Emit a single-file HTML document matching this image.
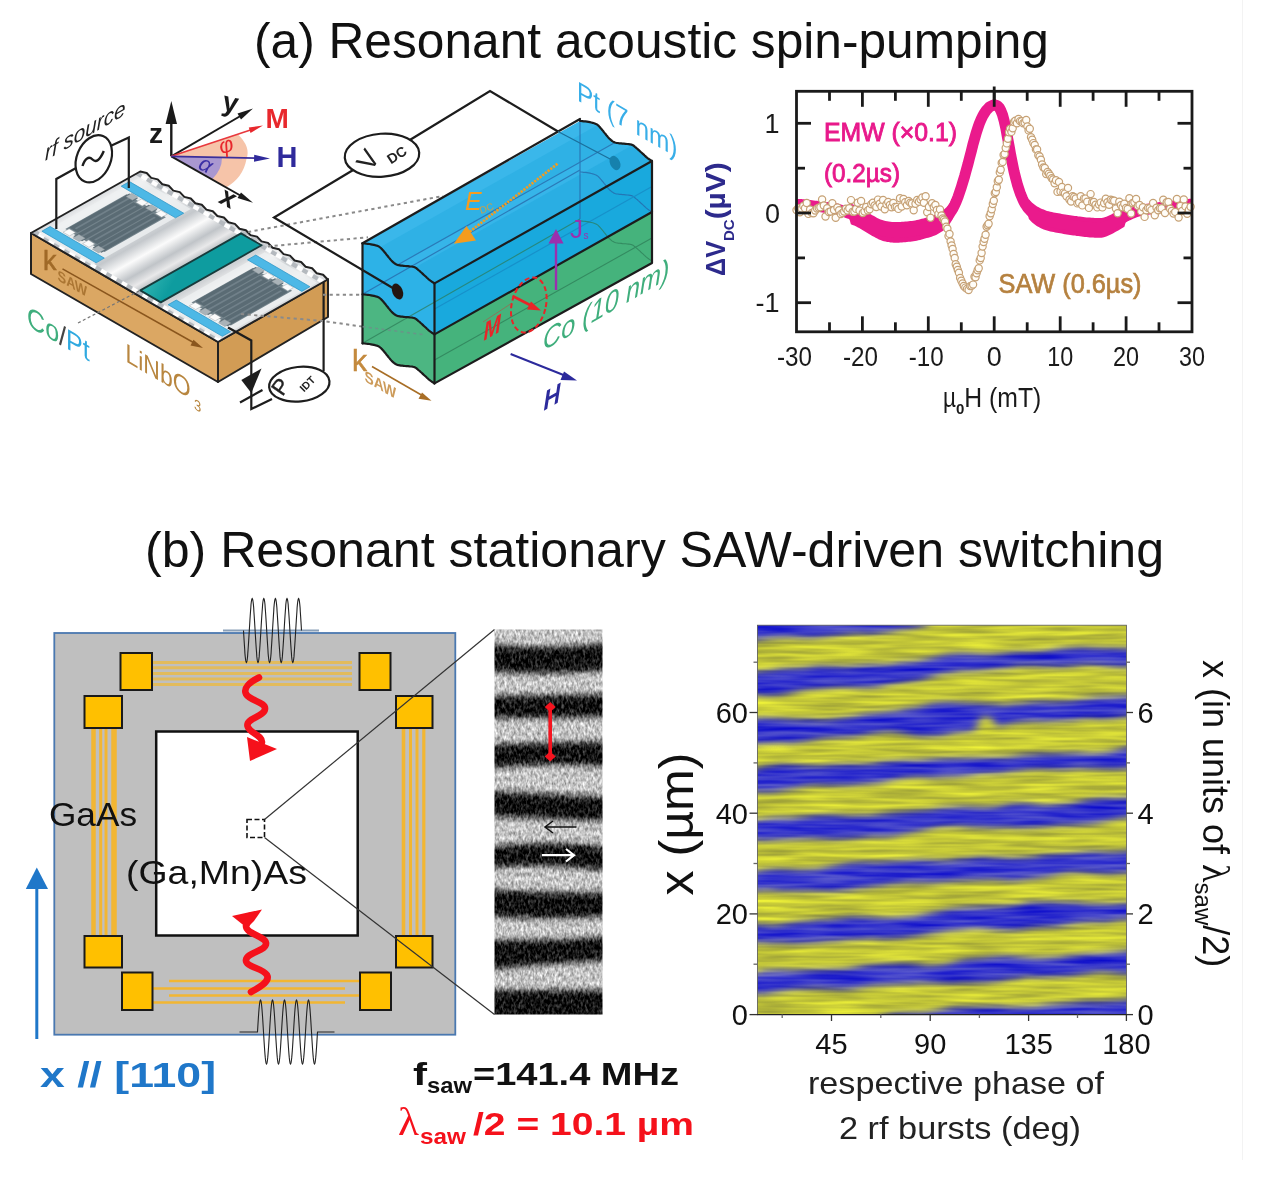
<!DOCTYPE html>
<html><head><meta charset="utf-8"><title>SAW figure</title>
<style>html,body{margin:0;padding:0;background:#fff}svg{display:block;filter:blur(0.4px)}</style>
</head><body>
<svg width="1264" height="1182" viewBox="0 0 1264 1182" font-family="'Liberation Sans', sans-serif">
<rect width="1264" height="1182" fill="#ffffff"/>

<g fill="#111">
<text x="254" y="58" font-size="49.5" textLength="795" lengthAdjust="spacingAndGlyphs">(a) Resonant acoustic spin-pumping</text>
<text x="145" y="567" font-size="50" textLength="1019" lengthAdjust="spacingAndGlyphs">(b) Resonant stationary SAW-driven switching</text>
</g>
<line x1="1242.5" y1="0" x2="1242.5" y2="1160" stroke="#f3f3f3" stroke-width="1"/>
<g id="device">
<defs>
<linearGradient id="silver" x1="0" y1="0" x2="1" y2="0">
<stop offset="0" stop-color="#d9dcdf"/><stop offset="0.05" stop-color="#f6f6f6"/><stop offset="0.12" stop-color="#cfd3d6"/>
<stop offset="0.2" stop-color="#f2f2f2"/><stop offset="0.28" stop-color="#d5d8db"/><stop offset="0.33" stop-color="#c4c8cc"/>
<stop offset="0.40" stop-color="#fbfbfb"/><stop offset="0.47" stop-color="#c0c4c8"/><stop offset="0.52" stop-color="#e9e9ea"/>
<stop offset="0.56" stop-color="#b9bdc1"/><stop offset="0.68" stop-color="#d0d3d6"/><stop offset="0.74" stop-color="#f4f4f4"/>
<stop offset="0.82" stop-color="#cdd1d4"/><stop offset="0.9" stop-color="#f3f3f3"/><stop offset="1" stop-color="#d5d8db"/>
</linearGradient>
<linearGradient id="tealg" gradientUnits="userSpaceOnUse" x1="141" y1="290" x2="162" y2="302"><stop offset="0" stop-color="#2fb3b0"/><stop offset="1" stop-color="#0e9c9f"/></linearGradient>
</defs>
<polygon points="31,233 218,342 218,382 31,274" fill="#dba763" stroke="#222" stroke-width="2" stroke-linejoin="round"/>
<polygon points="218,342 328,279 328,317 218,382" fill="#d29c55" stroke="#222" stroke-width="2" stroke-linejoin="round"/>
<clipPath id="topclip"><polygon points="31.0,233.0 140.2,171.5 146.7,173.0 151.2,177.9 157.7,179.4 162.3,184.2 168.7,185.8 173.3,190.6 179.8,192.1 184.3,196.9 190.8,198.5 195.3,203.3 201.8,204.8 206.4,209.6 212.8,211.2 217.4,216.0 223.9,217.5 228.4,222.3 234.9,223.9 239.5,228.7 245.9,230.2 250.5,235.1 257.0,236.6 261.5,241.4 268.0,242.9 272.6,247.8 279.0,249.3 283.6,254.1 290.0,255.6 294.6,260.5 301.1,262.0 305.6,266.8 312.1,268.3 316.7,273.2 323.1,274.7 327.7,279.5 218.0,342.0"/></clipPath>
<g clip-path="url(#topclip)"><rect x="0" y="0" width="100" height="104" fill="url(#silver)" transform="matrix(1.87 1.09 1.095 -0.62 31 233)"/></g>
<g clip-path="url(#topclip)" fill="none" stroke-width="4.2" stroke-dasharray="5.5 6.5">
<path d="M33.8,231.4 L220.8,340.4" stroke="#b4b9be"/>
<path d="M33.8,231.4 L220.8,340.4" stroke="#ffffff" stroke-dashoffset="6"/>
<path d="M136.7,173.2 L323.7,282.2" stroke="#b4b9be"/>
<path d="M136.7,173.2 L323.7,282.2" stroke="#ffffff" stroke-dashoffset="6"/>
</g>
<polygon points="31.0,233.0 140.2,171.5 146.7,173.0 151.2,177.9 157.7,179.4 162.3,184.2 168.7,185.8 173.3,190.6 179.8,192.1 184.3,196.9 190.8,198.5 195.3,203.3 201.8,204.8 206.4,209.6 212.8,211.2 217.4,216.0 223.9,217.5 228.4,222.3 234.9,223.9 239.5,228.7 245.9,230.2 250.5,235.1 257.0,236.6 261.5,241.4 268.0,242.9 272.6,247.8 279.0,249.3 283.6,254.1 290.0,255.6 294.6,260.5 301.1,262.0 305.6,266.8 312.1,268.3 316.7,273.2 323.1,274.7 327.7,279.5 218.0,342.0" fill="none" stroke="#222" stroke-width="2" stroke-linejoin="round"/>
<polygon points="39.9,234.4 92.3,264.9 190.8,209.1 138.4,178.6" fill="#eef0f1" opacity="0.8"/>
<polygon points="65.3,229.1 104.5,252.0 165.9,217.2 126.6,194.3" fill="#74848c"/>
<polygon points="69.1,227.5 77.7,232.5 137.9,198.4 129.3,193.4" fill="#5a6b74"/>
<polygon points="74.7,228.3 76.4,229.2 132.2,197.6 130.5,196.6" fill="#71818a"/>
<polygon points="63.1,232.2 69.5,235.9 75.5,232.5 69.1,228.8" fill="#fbfbfb" stroke="#8a959b" stroke-width="0.4"/>
<polygon points="126.1,196.6 132.4,200.3 138.1,197.1 131.8,193.3" fill="#aab3b8" stroke="#8a959b" stroke-width="0.4"/>
<polygon points="73.4,236.3 82.0,241.3 142.2,207.2 133.6,202.2" fill="#5a6b74"/>
<polygon points="78.9,237.0 80.6,238.0 136.4,206.4 134.8,205.4" fill="#71818a"/>
<polygon points="72.8,237.9 79.2,241.6 85.2,238.2 78.9,234.5" fill="#aab3b8" stroke="#8a959b" stroke-width="0.4"/>
<polygon points="135.8,202.2 142.2,205.9 147.9,202.7 141.5,199.0" fill="#fbfbfb" stroke="#8a959b" stroke-width="0.4"/>
<polygon points="88.6,238.9 97.2,243.9 157.4,209.8 148.8,204.8" fill="#5a6b74"/>
<polygon points="94.1,239.6 95.8,240.6 151.6,209.0 150.0,208.0" fill="#71818a"/>
<polygon points="82.6,243.6 88.9,247.3 94.9,243.9 88.6,240.1" fill="#fbfbfb" stroke="#8a959b" stroke-width="0.4"/>
<polygon points="145.5,207.9 151.9,211.6 157.6,208.4 151.2,204.7" fill="#aab3b8" stroke="#8a959b" stroke-width="0.4"/>
<polygon points="92.8,247.6 101.4,252.7 161.6,218.6 153.0,213.5" fill="#5a6b74"/>
<polygon points="98.4,248.4 100.1,249.3 155.9,217.7 154.2,216.7" fill="#71818a"/>
<polygon points="92.3,249.2 98.6,252.9 104.7,249.5 98.3,245.8" fill="#aab3b8" stroke="#8a959b" stroke-width="0.4"/>
<polygon points="155.3,213.6 161.6,217.3 167.3,214.1 160.9,210.3" fill="#fbfbfb" stroke="#8a959b" stroke-width="0.4"/>
<polygon points="41.9,231.2 96.1,262.8 104.3,258.1 50.1,226.5" fill="#4db8e6" stroke="#3198c8" stroke-width="0.8"/>
<polygon points="121.2,186.2 175.5,217.8 183.7,213.2 129.5,181.6" fill="#4db8e6" stroke="#3198c8" stroke-width="0.8"/>
<polygon points="166.1,308.0 218.5,338.5 317.0,282.7 264.7,252.2" fill="#eef0f1" opacity="0.8"/>
<polygon points="191.5,302.6 230.8,325.5 292.1,290.8 252.8,267.9" fill="#74848c"/>
<polygon points="195.3,301.1 203.9,306.1 264.2,272.0 255.6,267.0" fill="#5a6b74"/>
<polygon points="200.9,301.8 202.6,302.8 258.4,271.2 256.7,270.2" fill="#71818a"/>
<polygon points="189.3,305.8 195.7,309.5 201.7,306.1 195.4,302.4" fill="#fbfbfb" stroke="#8a959b" stroke-width="0.4"/>
<polygon points="252.3,270.1 258.7,273.9 264.4,270.6 258.0,266.9" fill="#aab3b8" stroke="#8a959b" stroke-width="0.4"/>
<polygon points="199.6,309.9 208.2,314.9 268.4,280.8 259.8,275.8" fill="#5a6b74"/>
<polygon points="205.1,310.6 206.8,311.6 262.7,280.0 261.0,279.0" fill="#71818a"/>
<polygon points="199.1,311.5 205.4,315.2 211.4,311.8 205.1,308.1" fill="#aab3b8" stroke="#8a959b" stroke-width="0.4"/>
<polygon points="262.0,275.8 268.4,279.5 274.1,276.3 267.7,272.6" fill="#fbfbfb" stroke="#8a959b" stroke-width="0.4"/>
<polygon points="214.8,312.4 223.4,317.5 283.6,283.4 275.0,278.3" fill="#5a6b74"/>
<polygon points="220.3,313.2 222.0,314.1 277.9,282.5 276.2,281.5" fill="#71818a"/>
<polygon points="208.8,317.1 215.2,320.8 221.2,317.4 214.8,313.7" fill="#fbfbfb" stroke="#8a959b" stroke-width="0.4"/>
<polygon points="271.8,281.5 278.1,285.2 283.8,282.0 277.4,278.3" fill="#aab3b8" stroke="#8a959b" stroke-width="0.4"/>
<polygon points="219.0,321.2 227.6,326.2 287.9,292.1 279.3,287.1" fill="#5a6b74"/>
<polygon points="224.6,321.9 226.3,322.9 282.1,291.3 280.4,290.3" fill="#71818a"/>
<polygon points="218.5,322.8 224.9,326.5 230.9,323.1 224.5,319.4" fill="#aab3b8" stroke="#8a959b" stroke-width="0.4"/>
<polygon points="281.5,287.1 287.8,290.9 293.5,287.6 287.2,283.9" fill="#fbfbfb" stroke="#8a959b" stroke-width="0.4"/>
<polygon points="168.1,304.7 222.3,336.3 230.5,331.7 176.3,300.1" fill="#4db8e6" stroke="#3198c8" stroke-width="0.8"/>
<polygon points="247.5,259.8 301.7,291.4 309.9,286.7 255.7,255.1" fill="#4db8e6" stroke="#3198c8" stroke-width="0.8"/>
<polygon points="140.3,290.4 160.8,302.4 261.6,245.3 241.0,233.4" fill="url(#tealg)" stroke="#173b3c" stroke-width="1.8" stroke-linejoin="round"/>
<g fill="none" stroke="#1d1d1d" stroke-width="2.2" stroke-linejoin="miter">
<path d="M56.3,229 V179 L77,167.5"/>
<path d="M110.5,146 L128.8,137.5 V188"/>
<ellipse cx="93.8" cy="158.8" rx="17" ry="24.5" transform="rotate(22 93.8 158.8)" fill="#fff"/>
<path d="M82.5,166 C85,158 89,156 92.5,159.5 C96,163 100,160 103.8,151" stroke-width="2.4"/>
</g>
<text transform="matrix(0.866,-0.5,0,1,45,161)" font-size="22" font-style="italic" fill="#222" textLength="93" lengthAdjust="spacingAndGlyphs">rf source</text>
<g fill="none" stroke="#1d1d1d" stroke-width="2.2">
<path d="M228,327.5 L251.3,340.5 V409 L272,399"/>
<path d="M323.6,282 V371"/>
<path d="M240,402.5 L262.5,390"/>
<ellipse cx="299.3" cy="384.2" rx="30.3" ry="17.3" transform="rotate(-6 299.3 384.2)" fill="#fff"/>
</g>
<polygon points="241.3,380 261.5,368.5 251.3,393" fill="#1d1d1d"/>
<text transform="translate(282.5,397) rotate(-55)" font-size="22" fill="#222" stroke="#222" stroke-width="0.4">P</text>
<text transform="translate(304,392.5) rotate(-45)" font-size="10.5" font-weight="bold" fill="#222">IDT</text>
<path d="M171.3,156.3 L237.6,134.1 Q251,147 246.5,159 Q243,178 226,187.4 Z" fill="#f6c4a9"/>
<path d="M171.3,156.3 L222,157.6 Q222,170 212,179.5 Z" fill="#aa98d0"/>
<g stroke-width="2" fill="none">
<path d="M171.3,156.3 V120" stroke="#1a1a1a" stroke-width="2.4"/>
<path d="M171.3,156.3 L243,114.5" stroke="#1a1a1a"/>
<path d="M171.3,156.3 L243,197" stroke="#1a1a1a"/>
<path d="M171.3,156.3 L252,129.5" stroke="#e8383d" stroke-width="1.6"/>
<path d="M171.3,156.3 L256,158.2" stroke="#3b2f9b" stroke-width="1.8"/>
</g>
<polygon points="171.3,101 177,124 165.6,124" fill="#1a1a1a"/>
<polygon points="253,108.5 241,119.5 237.5,113.5" fill="#1a1a1a"/>
<polygon points="253,202.8 237.5,198 241,192.5" fill="#1a1a1a"/>
<polygon points="263,125.6 250.5,133 248.8,127.5" fill="#e8282d"/>
<polygon points="270,158.5 254,161.8 254.2,154.8" fill="#2f2a9b"/>
<g font-weight="bold">
<text x="149" y="142.5" font-size="28" fill="#1a1a1a">z</text>
<text transform="translate(221,110) rotate(12)" font-size="28" fill="#1a1a1a">y</text>
<text transform="translate(217.5,202) rotate(28)" font-size="27" fill="#1a1a1a">x</text>
<text x="265.5" y="127.5" font-size="28" fill="#e8282d">M</text>
<text x="276.5" y="167" font-size="29" fill="#2f2a9b">H</text>
</g>
<text transform="translate(221,154) rotate(-15)" font-size="22" fill="#e8282d" font-style="italic">φ</text>
<text transform="translate(197,168) rotate(28)" font-size="22" fill="#3b2fa5" font-style="italic">α</text>
<text x="43" y="270" font-size="27" fill="#a06a28" stroke="#a06a28" stroke-width="0.5">k</text>
<text transform="matrix(0.866,0.5,0,1,57.5,280)" font-size="15" font-weight="bold" fill="#a06a28" opacity="0.8">SAW</text>
<path d="M62.5,268.8 L197,344.5" stroke="#8a561d" stroke-width="1.5" fill="none"/>
<polygon points="203,348 190.5,345.5 193.5,339.8" fill="#8a561d"/>
<text transform="matrix(0.866,0.5,0,1,27,325.5)" font-size="29"><tspan fill="#3fae7d">Co</tspan><tspan fill="#444">/</tspan><tspan fill="#2fa9e0">Pt</tspan></text>
<text transform="matrix(0.866,0.5,0,1,125.5,361.3)" font-size="26.5" fill="#b8863f">LiNbO<tspan font-size="15" dy="8" dx="4">3</tspan></text>
<path d="M78,323 L141,290" stroke="#777" stroke-width="1.2" stroke-dasharray="3 2.5" fill="none"/>
</g>
<g id="block">
<g stroke="#8a8a8a" stroke-width="2" stroke-dasharray="3.2 3.4" fill="none">
<path d="M248,232 L443,196"/>
<path d="M268,246.4 L368,237.3"/>
<path d="M323,294.7 L362.5,294.7"/>
<path d="M241,314 L323,321 L362.5,326.6"/>
</g>
<g stroke="#1c1c1c" stroke-width="2.2" fill="none" stroke-linejoin="miter">
<path d="M409,140.5 L490,91 L558,131.5"/>
</g>
<polygon points="362.5,243.3 363.4,243.4 364.7,243.5 366.2,243.7 367.9,243.8 369.5,244.0 371.0,244.3 372.4,244.6 373.8,244.9 375.2,245.2 376.6,245.6 377.8,246.1 379.0,246.6 380.0,247.3 380.9,248.0 381.7,248.9 382.5,249.7 383.2,250.6 384.0,251.5 384.7,252.4 385.5,253.2 386.1,254.1 386.8,255.0 387.5,255.8 388.2,256.7 388.9,257.6 389.6,258.4 390.3,259.3 391.0,260.1 391.7,260.9 392.5,261.6 393.3,262.3 394.0,262.9 394.8,263.5 395.6,264.0 396.5,264.5 397.5,264.9 398.6,265.2 399.8,265.4 401.0,265.6 402.3,265.7 403.6,265.8 405.0,266.0 406.4,266.1 408.0,266.2 409.6,266.4 411.2,266.5 412.6,266.7 413.9,267.0 415.0,267.4 415.9,267.9 416.7,268.5 417.4,269.2 418.2,269.8 419.0,270.5 419.9,271.2 420.7,272.0 421.6,272.8 422.5,273.6 423.3,274.4 424.2,275.2 425.1,276.0 426.0,276.8 426.9,277.7 427.8,278.5 428.6,279.3 429.5,280.0 430.4,280.7 431.4,281.4 432.3,282.0 433.2,282.6 434.0,283.0 434.5,283.4 652.0,161.0 651.5,160.6 650.7,160.2 649.8,159.6 648.9,159.0 647.9,158.3 647.0,157.6 646.1,156.9 645.3,156.1 644.4,155.3 643.5,154.4 642.6,153.6 641.7,152.8 640.8,152.0 640.0,151.2 639.1,150.4 638.2,149.6 637.4,148.8 636.5,148.1 635.7,147.4 634.9,146.8 634.2,146.1 633.4,145.5 632.5,145.0 631.4,144.6 630.1,144.3 628.7,144.1 627.1,144.0 625.5,143.8 623.9,143.7 622.5,143.6 621.1,143.4 619.8,143.3 618.5,143.2 617.3,143.0 616.1,142.8 615.0,142.5 614.0,142.1 613.1,141.6 612.3,141.1 611.5,140.5 610.8,139.9 610.0,139.2 609.2,138.5 608.5,137.7 607.8,136.9 607.1,136.0 606.4,135.2 605.7,134.3 605.0,133.4 604.3,132.6 603.6,131.7 603.0,130.8 602.2,130.0 601.5,129.1 600.7,128.2 600.0,127.3 599.2,126.5 598.4,125.6 597.5,124.9 596.5,124.2 595.3,123.7 594.1,123.2 592.7,122.8 591.3,122.5 589.9,122.2 588.5,121.9 587.0,121.6 585.4,121.4 583.8,121.3 582.2,121.1 580.9,121.0 580.0,120.9" fill="#3ab7ea"/>
<polygon points="380.0,247.3 380.9,248.0 381.7,248.9 382.5,249.7 383.2,250.6 384.0,251.5 384.7,252.4 385.5,253.2 386.1,254.1 386.8,255.0 387.5,255.8 388.2,256.7 388.9,257.6 389.6,258.4 390.3,259.3 391.0,260.1 391.7,260.9 392.5,261.6 393.3,262.3 394.0,262.9 394.8,263.5 395.6,264.0 396.5,264.5 397.5,264.9 615.0,142.5 614.0,142.1 613.1,141.6 612.3,141.1 611.5,140.5 610.8,139.9 610.0,139.2 609.2,138.5 608.5,137.7 607.8,136.9 607.1,136.0 606.4,135.2 605.7,134.3 605.0,133.4 604.3,132.6 603.6,131.7 603.0,130.8 602.2,130.0 601.5,129.1 600.7,128.2 600.0,127.3 599.2,126.5 598.4,125.6 597.5,124.9" fill="#2fb1e5"/>
<polygon points="397.5,264.9 398.6,265.2 399.8,265.4 401.0,265.6 402.3,265.7 403.6,265.8 405.0,266.0 406.4,266.1 408.0,266.2 409.6,266.4 411.2,266.5 412.6,266.7 413.9,267.0 415.0,267.4 632.5,145.0 631.4,144.6 630.1,144.3 628.7,144.1 627.1,144.0 625.5,143.8 623.9,143.7 622.5,143.6 621.1,143.4 619.8,143.3 618.5,143.2 617.3,143.0 616.1,142.8 615.0,142.5" fill="#36b5e9"/>
<polygon points="415.0,267.4 415.9,267.9 416.7,268.5 417.4,269.2 418.2,269.8 419.0,270.5 419.9,271.2 420.7,272.0 421.6,272.8 422.5,273.6 423.3,274.4 424.2,275.2 425.1,276.0 426.0,276.8 426.9,277.7 427.8,278.5 428.6,279.3 429.5,280.0 430.4,280.7 431.4,281.4 432.3,282.0 433.2,282.6 434.0,283.0 434.5,283.4 652.0,161.0 651.5,160.6 650.7,160.2 649.8,159.6 648.9,159.0 647.9,158.3 647.0,157.6 646.1,156.9 645.3,156.1 644.4,155.3 643.5,154.4 642.6,153.6 641.7,152.8 640.8,152.0 640.0,151.2 639.1,150.4 638.2,149.6 637.4,148.8 636.5,148.1 635.7,147.4 634.9,146.8 634.2,146.1 633.4,145.5 632.5,145.0" fill="#2aaee3"/>
<polygon points="362.5,243.3 363.4,243.4 364.7,243.5 366.2,243.7 367.9,243.8 369.5,244.0 371.0,244.3 372.4,244.6 373.8,244.9 375.2,245.2 376.6,245.6 377.8,246.1 379.0,246.6 380.0,247.3 380.9,248.0 381.7,248.9 382.5,249.7 383.2,250.6 384.0,251.5 384.7,252.4 385.5,253.2 386.1,254.1 386.8,255.0 387.5,255.8 388.2,256.7 388.9,257.6 389.6,258.4 390.3,259.3 391.0,260.1 391.7,260.9 392.5,261.6 393.3,262.3 394.0,262.9 394.8,263.5 395.6,264.0 396.5,264.5 397.5,264.9 398.6,265.2 399.8,265.4 401.0,265.6 402.3,265.7 403.6,265.8 405.0,266.0 406.4,266.1 408.0,266.2 409.6,266.4 411.2,266.5 412.6,266.7 413.9,267.0 415.0,267.4 415.9,267.9 416.7,268.5 417.4,269.2 418.2,269.8 419.0,270.5 419.9,271.2 420.7,272.0 421.6,272.8 422.5,273.6 423.3,274.4 424.2,275.2 425.1,276.0 426.0,276.8 426.9,277.7 427.8,278.5 428.6,279.3 429.5,280.0 430.4,280.7 431.4,281.4 432.3,282.0 433.2,282.6 434.0,283.0 434.5,283.4 434.5,334.4 434.0,334.0 433.2,333.6 432.3,333.0 431.4,332.4 430.4,331.7 429.5,331.0 428.6,330.3 427.8,329.5 426.9,328.7 426.0,327.8 425.1,327.0 424.2,326.2 423.3,325.4 422.5,324.6 421.6,323.8 420.7,323.0 419.9,322.2 419.0,321.5 418.2,320.8 417.4,320.2 416.7,319.5 415.9,318.9 415.0,318.4 413.9,318.0 412.6,317.7 411.2,317.5 409.6,317.4 408.0,317.2 406.4,317.1 405.0,317.0 403.6,316.8 402.3,316.7 401.0,316.6 399.8,316.4 398.6,316.2 397.5,315.9 396.5,315.5 395.6,315.0 394.8,314.5 394.0,313.9 393.3,313.3 392.5,312.6 391.7,311.9 391.0,311.1 390.3,310.3 389.6,309.4 388.9,308.6 388.2,307.7 387.5,306.8 386.8,306.0 386.1,305.1 385.5,304.2 384.7,303.4 384.0,302.5 383.2,301.6 382.5,300.7 381.7,299.9 380.9,299.0 380.0,298.3 379.0,297.6 377.8,297.1 376.6,296.6 375.2,296.2 373.8,295.9 372.4,295.6 371.0,295.3 369.5,295.0 367.9,294.8 366.2,294.7 364.7,294.5 363.4,294.4 362.5,294.3" fill="#2db2e7"/>
<polygon points="362.5,294.3 363.4,294.4 364.7,294.5 366.2,294.7 367.9,294.8 369.5,295.0 371.0,295.3 372.4,295.6 373.8,295.9 375.2,296.2 376.6,296.6 377.8,297.1 379.0,297.6 380.0,298.3 380.9,299.0 381.7,299.9 382.5,300.7 383.2,301.6 384.0,302.5 384.7,303.4 385.5,304.2 386.1,305.1 386.8,306.0 387.5,306.8 388.2,307.7 388.9,308.6 389.6,309.4 390.3,310.3 391.0,311.1 391.7,311.9 392.5,312.6 393.3,313.3 394.0,313.9 394.8,314.5 395.6,315.0 396.5,315.5 397.5,315.9 398.6,316.2 399.8,316.4 401.0,316.6 402.3,316.7 403.6,316.8 405.0,317.0 406.4,317.1 408.0,317.2 409.6,317.4 411.2,317.5 412.6,317.7 413.9,318.0 415.0,318.4 415.9,318.9 416.7,319.5 417.4,320.2 418.2,320.8 419.0,321.5 419.9,322.2 420.7,323.0 421.6,323.8 422.5,324.6 423.3,325.4 424.2,326.2 425.1,327.0 426.0,327.8 426.9,328.7 427.8,329.5 428.6,330.3 429.5,331.0 430.4,331.7 431.4,332.4 432.3,333.0 433.2,333.6 434.0,334.0 434.5,334.4 434.5,383.4 434.0,383.0 433.2,382.6 432.3,382.0 431.4,381.4 430.4,380.7 429.5,380.0 428.6,379.3 427.8,378.5 426.9,377.7 426.0,376.8 425.1,376.0 424.2,375.2 423.3,374.4 422.5,373.6 421.6,372.8 420.7,372.0 419.9,371.2 419.0,370.5 418.2,369.8 417.4,369.2 416.7,368.5 415.9,367.9 415.0,367.4 413.9,367.0 412.6,366.7 411.2,366.5 409.6,366.4 408.0,366.2 406.4,366.1 405.0,366.0 403.6,365.8 402.3,365.7 401.0,365.6 399.8,365.4 398.6,365.2 397.5,364.9 396.5,364.5 395.6,364.0 394.8,363.5 394.0,362.9 393.3,362.3 392.5,361.6 391.7,360.9 391.0,360.1 390.3,359.3 389.6,358.4 388.9,357.6 388.2,356.7 387.5,355.8 386.8,355.0 386.1,354.1 385.5,353.2 384.7,352.4 384.0,351.5 383.2,350.6 382.5,349.7 381.7,348.9 380.9,348.0 380.0,347.3 379.0,346.6 377.8,346.1 376.6,345.6 375.2,345.2 373.8,344.9 372.4,344.6 371.0,344.3 369.5,344.0 367.9,343.8 366.2,343.7 364.7,343.5 363.4,343.4 362.5,343.3" fill="#4cb682"/>
<polygon points="434.5,283.4 652,161 652,212 434.5,334.4" fill="#19a9dd"/>
<polygon points="434.5,334.4 652,212 652,263 434.5,383.4" fill="#45b37c"/>
<g stroke="#2766a8" stroke-width="1.2" fill="none" opacity="0.75">
<path d="M580,119 V219"/>
<path d="M362.5,294.3 L580,170"/>
<polyline points="580.0,171.9 580.9,172.0 582.2,172.1 583.8,172.3 585.4,172.4 587.0,172.6 588.5,172.9 589.9,173.2 591.3,173.5 592.7,173.8 594.1,174.2 595.3,174.7 596.5,175.2 597.5,175.9 598.4,176.6 599.2,177.5 600.0,178.3 600.7,179.2 601.5,180.1 602.2,181.0 603.0,181.8 603.6,182.7 604.3,183.6 605.0,184.4 605.7,185.3 606.4,186.2 607.1,187.0 607.8,187.9 608.5,188.7 609.2,189.5 610.0,190.2 610.8,190.9 611.5,191.5 612.3,192.1 613.1,192.6 614.0,193.1 615.0,193.5 616.1,193.8 617.3,194.0 618.5,194.2 619.8,194.3 621.1,194.4 622.5,194.6 623.9,194.7 625.5,194.8 627.1,195.0 628.7,195.1 630.1,195.3 631.4,195.6 632.5,196.0 633.4,196.5 634.2,197.1 634.9,197.8 635.7,198.4 636.5,199.1 637.4,199.8 638.2,200.6 639.1,201.4 640.0,202.2 640.8,203.0 641.7,203.8 642.6,204.6 643.5,205.4 644.4,206.3 645.3,207.1 646.1,207.9 647.0,208.6 647.9,209.3 648.9,210.0 649.8,210.6 650.7,211.2 651.5,211.6 652.0,212.0"/>
<path d="M397.5,264.9 L615,142.5"/>
<path d="M434.5,309 L652,186.5" stroke="#1689c4"/>
</g>
<g stroke="#2c7a55" stroke-width="1.1" fill="none" opacity="0.7">
<path d="M362.5,343.3 L580,219"/>
<polyline points="580.0,220.9 580.9,221.0 582.2,221.1 583.8,221.3 585.4,221.4 587.0,221.6 588.5,221.9 589.9,222.2 591.3,222.5 592.7,222.8 594.1,223.2 595.3,223.7 596.5,224.2 597.5,224.9 598.4,225.6 599.2,226.5 600.0,227.3 600.7,228.2 601.5,229.1 602.2,230.0 603.0,230.8 603.6,231.7 604.3,232.6 605.0,233.4 605.7,234.3 606.4,235.2 607.1,236.0 607.8,236.9 608.5,237.7 609.2,238.5 610.0,239.2 610.8,239.9 611.5,240.5 612.3,241.1 613.1,241.6 614.0,242.1 615.0,242.5 616.1,242.8 617.3,243.0 618.5,243.2 619.8,243.3 621.1,243.4 622.5,243.6 623.9,243.7 625.5,243.8 627.1,244.0 628.7,244.1 630.1,244.3 631.4,244.6 632.5,245.0 633.4,245.5 634.2,246.1 634.9,246.8 635.7,247.4 636.5,248.1 637.4,248.8 638.2,249.6 639.1,250.4 640.0,251.2 640.8,252.0 641.7,252.8 642.6,253.6 643.5,254.4 644.4,255.3 645.3,256.1 646.1,256.9 647.0,257.6 647.9,258.3 648.9,259.0 649.8,259.6 650.7,260.2 651.5,260.6 652.0,261.0"/>
<path d="M434.5,360 L652,238"/>
</g>
<g stroke="#1c1c1c" stroke-width="2.2" fill="none" stroke-linejoin="round" stroke-linecap="round">
<polyline points="362.5,243.3 363.4,243.4 364.7,243.5 366.2,243.7 367.9,243.8 369.5,244.0 371.0,244.3 372.4,244.6 373.8,244.9 375.2,245.2 376.6,245.6 377.8,246.1 379.0,246.6 380.0,247.3 380.9,248.0 381.7,248.9 382.5,249.7 383.2,250.6 384.0,251.5 384.7,252.4 385.5,253.2 386.1,254.1 386.8,255.0 387.5,255.8 388.2,256.7 388.9,257.6 389.6,258.4 390.3,259.3 391.0,260.1 391.7,260.9 392.5,261.6 393.3,262.3 394.0,262.9 394.8,263.5 395.6,264.0 396.5,264.5 397.5,264.9 398.6,265.2 399.8,265.4 401.0,265.6 402.3,265.7 403.6,265.8 405.0,266.0 406.4,266.1 408.0,266.2 409.6,266.4 411.2,266.5 412.6,266.7 413.9,267.0 415.0,267.4 415.9,267.9 416.7,268.5 417.4,269.2 418.2,269.8 419.0,270.5 419.9,271.2 420.7,272.0 421.6,272.8 422.5,273.6 423.3,274.4 424.2,275.2 425.1,276.0 426.0,276.8 426.9,277.7 427.8,278.5 428.6,279.3 429.5,280.0 430.4,280.7 431.4,281.4 432.3,282.0 433.2,282.6 434.0,283.0 434.5,283.4"/>
<polyline points="362.5,294.3 363.4,294.4 364.7,294.5 366.2,294.7 367.9,294.8 369.5,295.0 371.0,295.3 372.4,295.6 373.8,295.9 375.2,296.2 376.6,296.6 377.8,297.1 379.0,297.6 380.0,298.3 380.9,299.0 381.7,299.9 382.5,300.7 383.2,301.6 384.0,302.5 384.7,303.4 385.5,304.2 386.1,305.1 386.8,306.0 387.5,306.8 388.2,307.7 388.9,308.6 389.6,309.4 390.3,310.3 391.0,311.1 391.7,311.9 392.5,312.6 393.3,313.3 394.0,313.9 394.8,314.5 395.6,315.0 396.5,315.5 397.5,315.9 398.6,316.2 399.8,316.4 401.0,316.6 402.3,316.7 403.6,316.8 405.0,317.0 406.4,317.1 408.0,317.2 409.6,317.4 411.2,317.5 412.6,317.7 413.9,318.0 415.0,318.4 415.9,318.9 416.7,319.5 417.4,320.2 418.2,320.8 419.0,321.5 419.9,322.2 420.7,323.0 421.6,323.8 422.5,324.6 423.3,325.4 424.2,326.2 425.1,327.0 426.0,327.8 426.9,328.7 427.8,329.5 428.6,330.3 429.5,331.0 430.4,331.7 431.4,332.4 432.3,333.0 433.2,333.6 434.0,334.0 434.5,334.4"/>
<polyline points="362.5,343.3 363.4,343.4 364.7,343.5 366.2,343.7 367.9,343.8 369.5,344.0 371.0,344.3 372.4,344.6 373.8,344.9 375.2,345.2 376.6,345.6 377.8,346.1 379.0,346.6 380.0,347.3 380.9,348.0 381.7,348.9 382.5,349.7 383.2,350.6 384.0,351.5 384.7,352.4 385.5,353.2 386.1,354.1 386.8,355.0 387.5,355.8 388.2,356.7 388.9,357.6 389.6,358.4 390.3,359.3 391.0,360.1 391.7,360.9 392.5,361.6 393.3,362.3 394.0,362.9 394.8,363.5 395.6,364.0 396.5,364.5 397.5,364.9 398.6,365.2 399.8,365.4 401.0,365.6 402.3,365.7 403.6,365.8 405.0,366.0 406.4,366.1 408.0,366.2 409.6,366.4 411.2,366.5 412.6,366.7 413.9,367.0 415.0,367.4 415.9,367.9 416.7,368.5 417.4,369.2 418.2,369.8 419.0,370.5 419.9,371.2 420.7,372.0 421.6,372.8 422.5,373.6 423.3,374.4 424.2,375.2 425.1,376.0 426.0,376.8 426.9,377.7 427.8,378.5 428.6,379.3 429.5,380.0 430.4,380.7 431.4,381.4 432.3,382.0 433.2,382.6 434.0,383.0 434.5,383.4"/>
<polyline points="580.0,120.9 580.9,121.0 582.2,121.1 583.8,121.3 585.4,121.4 587.0,121.6 588.5,121.9 589.9,122.2 591.3,122.5 592.7,122.8 594.1,123.2 595.3,123.7 596.5,124.2 597.5,124.9 598.4,125.6 599.2,126.5 600.0,127.3 600.7,128.2 601.5,129.1 602.2,130.0 603.0,130.8 603.6,131.7 604.3,132.6 605.0,133.4 605.7,134.3 606.4,135.2 607.1,136.0 607.8,136.9 608.5,137.7 609.2,138.5 610.0,139.2 610.8,139.9 611.5,140.5 612.3,141.1 613.1,141.6 614.0,142.1 615.0,142.5 616.1,142.8 617.3,143.0 618.5,143.2 619.8,143.3 621.1,143.4 622.5,143.6 623.9,143.7 625.5,143.8 627.1,144.0 628.7,144.1 630.1,144.3 631.4,144.6 632.5,145.0 633.4,145.5 634.2,146.1 634.9,146.8 635.7,147.4 636.5,148.1 637.4,148.8 638.2,149.6 639.1,150.4 640.0,151.2 640.8,152.0 641.7,152.8 642.6,153.6 643.5,154.4 644.4,155.3 645.3,156.1 646.1,156.9 647.0,157.6 647.9,158.3 648.9,159.0 649.8,159.6 650.7,160.2 651.5,160.6 652.0,161.0"/>
<path d="M362.5,243.3 V343.3"/>
<path d="M434.5,283.4 V383.4"/>
<path d="M362.5,243.3 L580,119"/>
<path d="M434.5,283.4 L652,161 V263 L434.5,383.4"/>
<path d="M434.5,334.4 L652,212"/>
</g>
<path d="M354,169.5 L274,217.5 L397,290.5" stroke="#1c1c1c" stroke-width="2.2" fill="none" stroke-linejoin="miter"/>
<path d="M362.5,326.6 L426,335" stroke="#6f8f8a" stroke-width="1.6" stroke-dasharray="3 3.4" fill="none" opacity="0.8"/>
<path d="M558,131.5 L612,160" stroke="#1a6f9c" stroke-width="1.3" fill="none"/>
<ellipse cx="615" cy="163" rx="5" ry="7.5" transform="rotate(-25 615 163)" fill="#1681ad"/>
<ellipse cx="397.5" cy="291.5" rx="5.2" ry="8.3" transform="rotate(-22 397.5 291.5)" fill="#231510"/>
<ellipse cx="382" cy="155.2" rx="37.3" ry="21.5" transform="rotate(-4 382 155.2)" fill="#fff" stroke="#1c1c1c" stroke-width="2.2"/>
<text transform="translate(375.6,165) rotate(-57)" x="-9" y="0" font-size="27" fill="#222">V</text>
<text transform="translate(391,164.5) rotate(-33)" font-size="14" font-weight="bold" fill="#222">DC</text>
<path d="M557.5,163.8 L468,233" stroke="#f59c1e" stroke-width="2.6" stroke-dasharray="2.2 1.2" fill="none"/>
<polygon points="453.8,243.8 466.5,226 476,240.5" fill="#f59c1e"/>
<text x="465" y="210" font-size="25" fill="#f59c1e" font-style="italic">E</text>
<text transform="translate(481,214) rotate(-20)" font-size="10" fill="#f59c1e" opacity="0.8">DC</text>
<path d="M556,290 V241" stroke="#9b2fae" stroke-width="2.4" fill="none"/>
<polygon points="556,229 563.5,243.5 548.5,243.5" fill="#9b2fae"/>
<text x="570" y="237.5" font-size="26" fill="#9b2fae">J</text>
<text x="583.5" y="238.5" font-size="10" fill="#9b2fae">s</text>
<ellipse cx="528.8" cy="305" rx="17" ry="28" transform="rotate(14 528.8 305)" fill="none" stroke="#e82528" stroke-width="2" stroke-dasharray="5 3"/>
<path d="M512.5,296 L530,305" stroke="#e82528" stroke-width="2.6"/>
<polygon points="541,310.5 527,309.5 531,301.5" fill="#e82528"/>
<path d="M483,322 L512,303" stroke="#e82528" stroke-width="0.8" opacity="0.5"/>
<text transform="matrix(0.866,-0.5,0,1,483.5,341)" font-size="25" fill="#e82528" font-style="italic" font-weight="bold" textLength="20" lengthAdjust="spacingAndGlyphs">M</text>
<text transform="matrix(0.866,-0.5,0,1,543,351)" font-size="29" font-style="italic" fill="#3fae7c" textLength="146" lengthAdjust="spacingAndGlyphs">Co (10 nm)</text>
<text transform="matrix(0.866,0.5,0,1,577,100)" font-size="28" fill="#38aee8" textLength="116" lengthAdjust="spacingAndGlyphs">Pt (7 nm)</text>
<path d="M510.6,354 L566,376" stroke="#2c2a9c" stroke-width="2" fill="none"/>
<polygon points="577,380.5 560.5,380 564,371.5" fill="#2c2a9c"/>
<text transform="matrix(0.866,-0.5,0,1,543.5,411)" font-size="27" font-style="italic" font-weight="bold" fill="#2c2a9c">H</text>
<text x="352" y="370.5" font-size="30" fill="#c48a3e" stroke="#c48a3e" stroke-width="0.5">k</text>
<text transform="matrix(0.866,0.5,0,1,364.5,381)" font-size="16" font-weight="bold" fill="#c48a3e" opacity="0.85">SAW</text>
<path d="M372,366.5 L424,396.5" stroke="#a86e26" stroke-width="1.6" fill="none"/>
<polygon points="431.5,400.8 418.5,398.8 422,392.5" fill="#a86e26"/>
</g>
<g id="plot">
<polygon points="796.5,199.3 798.1,199.4 799.8,199.5 801.4,199.7 803.1,199.9 804.7,200.0 806.4,200.2 808.0,200.4 809.7,200.6 811.3,200.8 813.0,201.0 814.6,201.2 816.3,201.3 817.9,201.5 819.6,201.7 821.2,201.9 822.9,202.1 824.5,202.3 826.2,202.5 827.8,202.6 829.5,202.8 831.1,203.0 832.8,203.3 834.4,203.6 836.0,203.9 837.7,204.3 839.3,204.8 841.0,205.4 842.6,206.0 844.3,206.6 845.9,207.2 847.6,207.8 849.2,208.4 850.9,203.6 852.5,204.2 854.2,204.9 855.8,205.7 857.5,206.5 859.1,207.5 860.8,208.4 862.4,209.4 864.1,210.4 865.7,211.4 867.4,212.4 869.0,213.4 870.7,214.3 872.3,215.2 874.0,216.1 875.6,217.0 877.2,217.9 878.9,218.7 880.5,219.5 882.2,220.1 883.8,220.6 885.5,221.0 887.1,221.3 888.8,221.5 890.4,221.7 892.1,221.9 893.7,222.1 895.4,222.1 897.0,222.1 898.7,222.1 900.3,222.0 902.0,221.8 903.6,221.7 905.3,221.5 906.9,221.4 908.6,221.2 910.2,221.1 911.9,220.9 913.5,220.7 915.1,220.4 916.8,220.1 918.4,219.7 920.1,219.3 921.7,218.8 923.4,218.4 925.0,217.9 926.7,217.5 928.3,217.0 930.0,216.6 931.6,216.1 933.3,215.5 934.9,214.8 936.6,214.0 938.2,213.2 939.9,212.2 941.5,211.2 943.2,210.0 944.8,208.7 946.5,207.2 948.1,205.3 949.8,203.1 951.4,200.6 953.1,197.8 954.7,199.5 956.3,195.8 958.0,191.6 959.6,187.0 961.3,181.9 962.9,176.5 964.6,170.9 966.2,165.0 967.9,158.9 969.5,152.6 971.2,146.2 972.8,139.8 974.5,133.6 976.1,127.8 977.8,122.6 979.4,118.0 981.1,114.1 982.7,110.7 984.4,107.8 986.0,105.3 987.7,103.4 989.3,101.8 991.0,100.7 992.6,99.9 994.2,99.6 995.9,99.7 997.5,100.6 999.2,102.2 1000.8,105.0 1002.5,109.3 1004.1,115.2 1005.8,122.8 1007.4,131.5 1009.1,140.7 1010.7,149.8 1012.4,158.3 1014.0,166.0 1015.7,172.8 1017.3,178.8 1019.0,184.1 1020.6,188.8 1022.3,192.8 1023.9,196.3 1025.6,199.2 1027.2,201.7 1028.9,199.3 1030.5,201.1 1032.2,202.7 1033.8,204.1 1035.4,205.3 1037.1,206.4 1038.7,207.3 1040.4,208.2 1042.0,208.9 1043.7,209.6 1045.3,210.3 1047.0,210.9 1048.6,211.3 1050.3,211.7 1051.9,212.1 1053.6,212.4 1055.2,212.7 1056.9,213.0 1058.5,213.3 1060.2,213.6 1061.8,213.9 1063.5,214.2 1065.1,214.5 1066.8,214.7 1068.4,215.0 1070.1,215.2 1071.7,215.5 1073.3,215.7 1075.0,215.9 1076.6,216.1 1078.3,216.4 1079.9,216.6 1081.6,216.8 1083.2,217.0 1084.9,217.2 1086.5,217.4 1088.2,217.5 1089.8,217.6 1091.5,217.7 1093.1,217.8 1094.8,217.9 1096.4,218.0 1098.1,218.1 1099.7,218.1 1101.4,218.0 1103.0,217.7 1104.7,217.3 1106.3,216.7 1108.0,216.0 1109.6,215.2 1111.3,214.4 1112.9,213.6 1114.5,212.8 1116.2,211.9 1117.8,211.0 1119.5,210.0 1121.1,209.0 1122.8,208.0 1124.4,207.0 1126.1,211.0 1127.7,210.2 1129.4,209.5 1131.0,208.8 1132.7,208.1 1134.3,207.4 1136.0,206.8 1137.6,206.2 1139.3,205.7 1140.9,205.3 1142.6,205.0 1144.2,204.7 1145.9,204.5 1147.5,204.3 1149.2,204.0 1150.8,203.8 1152.5,203.6 1154.1,203.4 1155.7,203.1 1157.4,202.9 1159.0,202.7 1160.7,202.5 1162.3,202.3 1164.0,202.1 1165.6,202.0 1167.3,201.8 1168.9,201.6 1170.6,201.4 1172.2,201.2 1173.9,201.1 1175.5,200.9 1177.2,200.7 1178.8,200.5 1180.5,200.4 1182.1,200.2 1183.8,200.0 1185.4,199.8 1187.1,199.7 1188.7,199.5 1190.4,199.4 1192.0,199.3 1192.0,209.2 1190.4,209.3 1188.7,209.4 1187.1,209.5 1185.4,209.7 1183.8,209.9 1182.1,210.0 1180.5,210.2 1178.8,210.4 1177.2,210.6 1175.5,210.8 1173.9,210.9 1172.2,211.1 1170.6,211.3 1168.9,211.5 1167.3,211.7 1165.6,211.8 1164.0,212.0 1162.3,212.2 1160.7,212.4 1159.0,212.6 1157.4,212.8 1155.7,213.0 1154.1,213.2 1152.5,213.4 1150.8,213.7 1149.2,213.9 1147.5,214.1 1145.9,214.4 1144.2,214.6 1142.6,214.9 1140.9,215.2 1139.3,215.6 1137.6,216.1 1136.0,216.7 1134.3,217.3 1132.7,217.9 1131.0,218.6 1129.4,219.3 1127.7,220.1 1126.1,220.9 1124.4,226.7 1122.8,227.7 1121.1,228.7 1119.5,229.7 1117.8,230.7 1116.2,231.6 1114.5,232.5 1112.9,233.4 1111.3,234.2 1109.6,235.0 1108.0,235.7 1106.3,236.4 1104.7,237.0 1103.0,237.4 1101.4,237.7 1099.7,237.8 1098.1,237.8 1096.4,237.7 1094.8,237.7 1093.1,237.6 1091.5,237.5 1089.8,237.4 1088.2,237.3 1086.5,237.1 1084.9,236.9 1083.2,236.7 1081.6,236.5 1079.9,236.3 1078.3,236.1 1076.6,235.9 1075.0,235.6 1073.3,235.4 1071.7,235.2 1070.1,235.0 1068.4,234.7 1066.8,234.5 1065.1,234.2 1063.5,233.9 1061.8,233.6 1060.2,233.3 1058.5,233.0 1056.9,232.7 1055.2,232.4 1053.6,232.1 1051.9,231.8 1050.3,231.5 1048.6,231.1 1047.0,230.6 1045.3,230.0 1043.7,229.4 1042.0,228.7 1040.4,227.9 1038.7,227.1 1037.1,226.2 1035.4,225.1 1033.8,223.8 1032.2,222.4 1030.5,220.8 1028.9,219.0 1027.2,212.4 1025.6,210.0 1023.9,207.0 1022.3,203.6 1020.6,199.5 1019.0,194.9 1017.3,189.6 1015.7,183.6 1014.0,176.7 1012.4,169.1 1010.7,160.6 1009.1,151.5 1007.4,142.3 1005.8,133.5 1004.1,126.0 1002.5,120.0 1000.8,115.8 999.2,113.0 997.5,111.3 995.9,110.5 994.2,110.3 992.6,110.7 991.0,111.4 989.3,112.6 987.7,114.1 986.0,116.1 984.4,118.5 982.7,121.4 981.1,124.8 979.4,128.8 977.8,133.4 976.1,138.6 974.5,144.3 972.8,150.5 971.2,156.9 969.5,163.4 967.9,169.7 966.2,175.8 964.6,181.7 962.9,187.3 961.3,192.7 959.6,197.7 958.0,202.4 956.3,206.6 954.7,210.3 953.1,218.4 951.4,221.2 949.8,223.7 948.1,225.9 946.5,227.8 944.8,229.4 943.2,230.7 941.5,231.8 939.9,232.8 938.2,233.8 936.6,234.7 934.9,235.4 933.3,236.1 931.6,236.7 930.0,237.2 928.3,237.7 926.7,238.1 925.0,238.6 923.4,239.0 921.7,239.5 920.1,239.9 918.4,240.3 916.8,240.7 915.1,241.0 913.5,241.3 911.9,241.5 910.2,241.7 908.6,241.8 906.9,242.0 905.3,242.2 903.6,242.3 902.0,242.4 900.3,242.6 898.7,242.7 897.0,242.8 895.4,242.8 893.7,242.7 892.1,242.5 890.4,242.4 888.8,242.1 887.1,241.9 885.5,241.6 883.8,241.2 882.2,240.7 880.5,240.1 878.9,239.4 877.2,238.5 875.6,237.7 874.0,236.8 872.3,235.9 870.7,234.9 869.0,234.0 867.4,233.0 865.7,232.0 864.1,231.0 862.4,230.0 860.8,229.1 859.1,228.1 857.5,227.2 855.8,226.3 854.2,225.6 852.5,224.9 850.9,224.2 849.2,218.2 847.6,217.6 845.9,217.0 844.3,216.4 842.6,215.8 841.0,215.3 839.3,214.7 837.7,214.2 836.0,213.8 834.4,213.4 832.8,213.1 831.1,212.9 829.5,212.7 827.8,212.5 826.2,212.3 824.5,212.1 822.9,212.0 821.2,211.8 819.6,211.6 817.9,211.4 816.3,211.2 814.6,211.0 813.0,210.8 811.3,210.6 809.7,210.5 808.0,210.3 806.4,210.1 804.7,209.9 803.1,209.7 801.4,209.6 799.8,209.4 798.1,209.3 796.5,209.2" fill="#ea1a8c"/>
<polyline points="796.5,204.3 798.1,204.4 799.8,204.5 801.4,204.6 803.1,204.8 804.7,205.0 806.4,205.2 808.0,205.3 809.7,205.5 811.3,205.7 813.0,205.9 814.6,206.1 816.3,206.3 817.9,206.5 819.6,206.6 821.2,206.8 822.9,207.0 824.5,207.2 826.2,207.4 827.8,207.6 829.5,207.8 831.1,208.0 832.8,208.2 834.4,208.5 836.0,208.8 837.7,209.3 839.3,209.8 841.0,210.3 842.6,210.9 844.3,211.5 845.9,212.1 847.6,212.7 849.2,213.3 850.9,213.9 852.5,214.6 854.2,215.2 855.8,216.0 857.5,216.9 859.1,217.8 860.8,218.7 862.4,219.7 864.1,220.7 865.7,221.7 867.4,222.7 869.0,223.7 870.7,224.6 872.3,225.5 874.0,226.4 875.6,227.3 877.2,228.2 878.9,229.0 880.5,229.8 882.2,230.4 883.8,230.9 885.5,231.3 887.1,231.6 888.8,231.8 890.4,232.0 892.1,232.2 893.7,232.4 895.4,232.4 897.0,232.4 898.7,232.4 900.3,232.3 902.0,232.1 903.6,232.0 905.3,231.8 906.9,231.7 908.6,231.5 910.2,231.4 911.9,231.2 913.5,231.0 915.1,230.7 916.8,230.4 918.4,230.0 920.1,229.6 921.7,229.1 923.4,228.7 925.0,228.2 926.7,227.8 928.3,227.3 930.0,226.9 931.6,226.4 933.3,225.8 934.9,225.1 936.6,224.4 938.2,223.5 939.9,222.5 941.5,221.5 943.2,220.4 944.8,219.1 946.5,217.5 948.1,215.6 949.8,213.4 951.4,210.9 953.1,208.1 954.7,204.9 956.3,201.2 958.0,197.0 959.6,192.3 961.3,187.3 962.9,181.9 964.6,176.3 966.2,170.4 967.9,164.3 969.5,158.0 971.2,151.6 972.8,145.1 974.5,139.0 976.1,133.2 977.8,128.0 979.4,123.4 981.1,119.4 982.7,116.0 984.4,113.1 986.0,110.7 987.7,108.8 989.3,107.2 991.0,106.1 992.6,105.3 994.2,104.9 995.9,105.1 997.5,105.9 999.2,107.6 1000.8,110.4 1002.5,114.7 1004.1,120.6 1005.8,128.1 1007.4,136.9 1009.1,146.1 1010.7,155.2 1012.4,163.7 1014.0,171.4 1015.7,178.2 1017.3,184.2 1019.0,189.5 1020.6,194.2 1022.3,198.2 1023.9,201.7 1025.6,204.6 1027.2,207.1 1028.9,209.1 1030.5,210.9 1032.2,212.5 1033.8,214.0 1035.4,215.2 1037.1,216.3 1038.7,217.2 1040.4,218.0 1042.0,218.8 1043.7,219.5 1045.3,220.2 1047.0,220.7 1048.6,221.2 1050.3,221.6 1051.9,221.9 1053.6,222.3 1055.2,222.6 1056.9,222.9 1058.5,223.2 1060.2,223.5 1061.8,223.8 1063.5,224.1 1065.1,224.3 1066.8,224.6 1068.4,224.9 1070.1,225.1 1071.7,225.3 1073.3,225.6 1075.0,225.8 1076.6,226.0 1078.3,226.2 1079.9,226.5 1081.6,226.7 1083.2,226.9 1084.9,227.1 1086.5,227.2 1088.2,227.4 1089.8,227.5 1091.5,227.6 1093.1,227.7 1094.8,227.8 1096.4,227.9 1098.1,227.9 1099.7,227.9 1101.4,227.8 1103.0,227.6 1104.7,227.1 1106.3,226.5 1108.0,225.8 1109.6,225.1 1111.3,224.3 1112.9,223.5 1114.5,222.7 1116.2,221.8 1117.8,220.8 1119.5,219.8 1121.1,218.8 1122.8,217.8 1124.4,216.9 1126.1,216.0 1127.7,215.2 1129.4,214.4 1131.0,213.7 1132.7,213.0 1134.3,212.4 1136.0,211.7 1137.6,211.2 1139.3,210.7 1140.9,210.3 1142.6,209.9 1144.2,209.7 1145.9,209.4 1147.5,209.2 1149.2,209.0 1150.8,208.7 1152.5,208.5 1154.1,208.3 1155.7,208.1 1157.4,207.9 1159.0,207.7 1160.7,207.5 1162.3,207.3 1164.0,207.1 1165.6,206.9 1167.3,206.7 1168.9,206.5 1170.6,206.4 1172.2,206.2 1173.9,206.0 1175.5,205.8 1177.2,205.6 1178.8,205.5 1180.5,205.3 1182.1,205.1 1183.8,204.9 1185.4,204.8 1187.1,204.6 1188.7,204.5 1190.4,204.3 1192.0,204.3" fill="none" stroke="#ea1a8c" stroke-width="11" stroke-linejoin="round" stroke-linecap="butt"/>
<g fill="#fffdf8" stroke="#c6a175" stroke-width="1.2"><circle cx="796.5" cy="210.1" r="3.6"/><circle cx="798.2" cy="208.2" r="3.6"/><circle cx="799.9" cy="212.3" r="3.6"/><circle cx="801.6" cy="208.6" r="3.6"/><circle cx="803.3" cy="205.9" r="3.6"/><circle cx="805.0" cy="208.2" r="3.6"/><circle cx="806.7" cy="203.0" r="3.6"/><circle cx="808.4" cy="213.9" r="3.6"/><circle cx="810.1" cy="209.5" r="3.6"/><circle cx="811.8" cy="213.0" r="3.6"/><circle cx="813.5" cy="213.2" r="3.6"/><circle cx="815.2" cy="210.5" r="3.6"/><circle cx="817.0" cy="208.6" r="3.6"/><circle cx="818.7" cy="207.7" r="3.6"/><circle cx="820.4" cy="207.2" r="3.6"/><circle cx="822.1" cy="199.4" r="3.6"/><circle cx="823.8" cy="205.5" r="3.6"/><circle cx="825.5" cy="216.5" r="3.6"/><circle cx="827.2" cy="208.3" r="3.6"/><circle cx="828.9" cy="212.0" r="3.6"/><circle cx="830.6" cy="211.5" r="3.6"/><circle cx="832.3" cy="203.2" r="3.6"/><circle cx="834.0" cy="210.0" r="3.6"/><circle cx="835.7" cy="217.7" r="3.6"/><circle cx="837.4" cy="207.5" r="3.6"/><circle cx="839.1" cy="210.2" r="3.6"/><circle cx="840.8" cy="214.1" r="3.6"/><circle cx="842.5" cy="212.9" r="3.6"/><circle cx="844.2" cy="211.5" r="3.6"/><circle cx="845.9" cy="208.7" r="3.6"/><circle cx="847.6" cy="210.5" r="3.6"/><circle cx="849.3" cy="208.2" r="3.6"/><circle cx="851.0" cy="200.1" r="3.6"/><circle cx="852.7" cy="211.7" r="3.6"/><circle cx="854.4" cy="211.6" r="3.6"/><circle cx="856.1" cy="208.9" r="3.6"/><circle cx="857.8" cy="202.7" r="3.6"/><circle cx="859.5" cy="210.6" r="3.6"/><circle cx="861.1" cy="200.9" r="3.6"/><circle cx="862.8" cy="213.0" r="3.6"/><circle cx="864.5" cy="211.6" r="3.6"/><circle cx="866.2" cy="207.0" r="3.6"/><circle cx="867.9" cy="210.5" r="3.6"/><circle cx="869.6" cy="209.2" r="3.6"/><circle cx="871.3" cy="204.2" r="3.6"/><circle cx="872.9" cy="202.8" r="3.6"/><circle cx="874.6" cy="205.4" r="3.6"/><circle cx="876.3" cy="207.0" r="3.6"/><circle cx="878.0" cy="199.6" r="3.6"/><circle cx="879.7" cy="203.7" r="3.6"/><circle cx="881.4" cy="206.5" r="3.6"/><circle cx="883.1" cy="199.9" r="3.6"/><circle cx="884.8" cy="209.2" r="3.6"/><circle cx="886.5" cy="204.3" r="3.6"/><circle cx="888.2" cy="202.0" r="3.6"/><circle cx="889.9" cy="204.9" r="3.6"/><circle cx="891.6" cy="207.3" r="3.6"/><circle cx="893.3" cy="203.0" r="3.6"/><circle cx="895.0" cy="206.9" r="3.6"/><circle cx="896.7" cy="207.1" r="3.6"/><circle cx="898.4" cy="208.9" r="3.6"/><circle cx="900.0" cy="198.3" r="3.6"/><circle cx="901.7" cy="206.5" r="3.6"/><circle cx="903.5" cy="198.9" r="3.6"/><circle cx="905.2" cy="202.3" r="3.6"/><circle cx="906.9" cy="205.2" r="3.6"/><circle cx="908.6" cy="201.0" r="3.6"/><circle cx="910.3" cy="202.8" r="3.6"/><circle cx="912.0" cy="203.4" r="3.6"/><circle cx="913.7" cy="210.2" r="3.6"/><circle cx="915.5" cy="203.7" r="3.6"/><circle cx="917.2" cy="200.0" r="3.6"/><circle cx="918.9" cy="201.8" r="3.6"/><circle cx="920.6" cy="199.6" r="3.6"/><circle cx="922.3" cy="197.5" r="3.6"/><circle cx="923.9" cy="202.8" r="3.6"/><circle cx="925.6" cy="196.2" r="3.6"/><circle cx="927.2" cy="212.3" r="3.6"/><circle cx="928.9" cy="207.0" r="3.6"/><circle cx="930.5" cy="217.7" r="3.6"/><circle cx="932.1" cy="203.2" r="3.6"/><circle cx="933.8" cy="206.9" r="3.6"/><circle cx="935.4" cy="205.0" r="3.6"/><circle cx="936.9" cy="209.9" r="3.6"/><circle cx="938.4" cy="214.1" r="3.6"/><circle cx="940.0" cy="209.4" r="3.6"/><circle cx="941.5" cy="215.4" r="3.6"/><circle cx="942.7" cy="218.4" r="3.6"/><circle cx="943.9" cy="219.7" r="3.6"/><circle cx="945.0" cy="221.5" r="3.6"/><circle cx="946.2" cy="226.8" r="3.6"/><circle cx="947.4" cy="228.8" r="3.6"/><circle cx="948.5" cy="236.1" r="3.6"/><circle cx="949.5" cy="233.9" r="3.6"/><circle cx="950.6" cy="241.5" r="3.6"/><circle cx="951.6" cy="245.5" r="3.6"/><circle cx="952.6" cy="248.9" r="3.6"/><circle cx="953.6" cy="254.0" r="3.6"/><circle cx="954.7" cy="258.0" r="3.6"/><circle cx="955.7" cy="264.2" r="3.6"/><circle cx="956.8" cy="266.8" r="3.6"/><circle cx="957.8" cy="269.9" r="3.6"/><circle cx="958.9" cy="272.8" r="3.6"/><circle cx="960.1" cy="278.0" r="3.6"/><circle cx="961.3" cy="280.7" r="3.6"/><circle cx="962.6" cy="283.4" r="3.6"/><circle cx="963.8" cy="286.0" r="3.6"/><circle cx="965.3" cy="287.6" r="3.6"/><circle cx="967.0" cy="288.9" r="3.6"/><circle cx="968.6" cy="290.0" r="3.6"/><circle cx="970.2" cy="286.1" r="3.6"/><circle cx="971.6" cy="285.8" r="3.6"/><circle cx="973.1" cy="284.6" r="3.6"/><circle cx="974.5" cy="276.7" r="3.6"/><circle cx="975.5" cy="277.2" r="3.6"/><circle cx="976.6" cy="273.2" r="3.6"/><circle cx="977.6" cy="270.3" r="3.6"/><circle cx="978.7" cy="268.3" r="3.6"/><circle cx="979.7" cy="260.4" r="3.6"/><circle cx="980.7" cy="258.0" r="3.6"/><circle cx="981.6" cy="253.0" r="3.6"/><circle cx="982.6" cy="246.6" r="3.6"/><circle cx="983.6" cy="242.0" r="3.6"/><circle cx="984.5" cy="238.7" r="3.6"/><circle cx="985.6" cy="234.8" r="3.6"/><circle cx="986.6" cy="226.7" r="3.6"/><circle cx="987.6" cy="225.2" r="3.6"/><circle cx="988.6" cy="223.7" r="3.6"/><circle cx="989.6" cy="216.2" r="3.6"/><circle cx="990.7" cy="213.2" r="3.6"/><circle cx="991.7" cy="209.3" r="3.6"/><circle cx="992.8" cy="204.0" r="3.6"/><circle cx="993.8" cy="200.7" r="3.6"/><circle cx="994.8" cy="193.2" r="3.6"/><circle cx="995.8" cy="192.0" r="3.6"/><circle cx="996.8" cy="187.3" r="3.6"/><circle cx="997.8" cy="181.2" r="3.6"/><circle cx="998.8" cy="179.8" r="3.6"/><circle cx="999.8" cy="172.4" r="3.6"/><circle cx="1000.7" cy="169.7" r="3.6"/><circle cx="1001.7" cy="162.9" r="3.6"/><circle cx="1002.7" cy="161.9" r="3.6"/><circle cx="1003.6" cy="155.0" r="3.6"/><circle cx="1004.6" cy="154.0" r="3.6"/><circle cx="1005.7" cy="148.0" r="3.6"/><circle cx="1006.8" cy="143.4" r="3.6"/><circle cx="1007.9" cy="138.8" r="3.6"/><circle cx="1009.0" cy="132.3" r="3.6"/><circle cx="1010.1" cy="128.8" r="3.6"/><circle cx="1011.4" cy="131.9" r="3.6"/><circle cx="1012.7" cy="128.2" r="3.6"/><circle cx="1014.0" cy="122.0" r="3.6"/><circle cx="1015.3" cy="120.8" r="3.6"/><circle cx="1016.9" cy="123.2" r="3.6"/><circle cx="1018.5" cy="119.0" r="3.6"/><circle cx="1020.0" cy="121.1" r="3.6"/><circle cx="1021.7" cy="121.3" r="3.6"/><circle cx="1023.2" cy="123.3" r="3.6"/><circle cx="1024.7" cy="122.8" r="3.6"/><circle cx="1026.2" cy="120.0" r="3.6"/><circle cx="1027.4" cy="126.4" r="3.6"/><circle cx="1028.6" cy="130.4" r="3.6"/><circle cx="1029.8" cy="128.8" r="3.6"/><circle cx="1031.0" cy="137.2" r="3.6"/><circle cx="1032.2" cy="139.8" r="3.6"/><circle cx="1033.4" cy="143.1" r="3.6"/><circle cx="1034.7" cy="145.0" r="3.6"/><circle cx="1035.9" cy="149.4" r="3.6"/><circle cx="1037.1" cy="149.4" r="3.6"/><circle cx="1038.3" cy="155.3" r="3.6"/><circle cx="1039.6" cy="156.5" r="3.6"/><circle cx="1040.9" cy="159.8" r="3.6"/><circle cx="1042.1" cy="164.5" r="3.6"/><circle cx="1043.4" cy="167.5" r="3.6"/><circle cx="1044.8" cy="168.0" r="3.6"/><circle cx="1046.2" cy="174.1" r="3.6"/><circle cx="1047.6" cy="171.9" r="3.6"/><circle cx="1048.9" cy="173.8" r="3.6"/><circle cx="1050.3" cy="175.7" r="3.6"/><circle cx="1051.7" cy="178.2" r="3.6"/><circle cx="1053.1" cy="179.4" r="3.6"/><circle cx="1054.6" cy="183.2" r="3.6"/><circle cx="1056.0" cy="180.3" r="3.6"/><circle cx="1057.5" cy="191.9" r="3.6"/><circle cx="1059.0" cy="182.0" r="3.6"/><circle cx="1060.5" cy="191.5" r="3.6"/><circle cx="1061.9" cy="186.9" r="3.6"/><circle cx="1063.4" cy="192.6" r="3.6"/><circle cx="1064.9" cy="193.5" r="3.6"/><circle cx="1066.5" cy="196.3" r="3.6"/><circle cx="1068.0" cy="187.9" r="3.6"/><circle cx="1069.5" cy="199.8" r="3.6"/><circle cx="1071.1" cy="201.5" r="3.6"/><circle cx="1072.6" cy="196.2" r="3.6"/><circle cx="1074.2" cy="196.9" r="3.6"/><circle cx="1075.8" cy="198.4" r="3.6"/><circle cx="1077.4" cy="203.4" r="3.6"/><circle cx="1079.1" cy="202.6" r="3.6"/><circle cx="1080.7" cy="196.2" r="3.6"/><circle cx="1082.3" cy="205.4" r="3.6"/><circle cx="1083.9" cy="198.6" r="3.6"/><circle cx="1085.5" cy="198.6" r="3.6"/><circle cx="1087.2" cy="201.7" r="3.6"/><circle cx="1088.9" cy="207.9" r="3.6"/><circle cx="1090.6" cy="194.1" r="3.6"/><circle cx="1092.3" cy="202.2" r="3.6"/><circle cx="1093.9" cy="202.0" r="3.6"/><circle cx="1095.6" cy="204.7" r="3.6"/><circle cx="1097.3" cy="207.4" r="3.6"/><circle cx="1099.0" cy="204.6" r="3.6"/><circle cx="1100.7" cy="202.6" r="3.6"/><circle cx="1102.4" cy="207.4" r="3.6"/><circle cx="1104.1" cy="203.3" r="3.6"/><circle cx="1105.8" cy="198.8" r="3.6"/><circle cx="1107.5" cy="202.2" r="3.6"/><circle cx="1109.1" cy="204.7" r="3.6"/><circle cx="1110.8" cy="199.8" r="3.6"/><circle cx="1112.5" cy="200.5" r="3.6"/><circle cx="1114.2" cy="200.8" r="3.6"/><circle cx="1115.9" cy="208.6" r="3.6"/><circle cx="1117.6" cy="213.3" r="3.6"/><circle cx="1119.3" cy="201.8" r="3.6"/><circle cx="1120.9" cy="205.2" r="3.6"/><circle cx="1122.6" cy="207.3" r="3.6"/><circle cx="1124.3" cy="203.7" r="3.6"/><circle cx="1126.0" cy="208.0" r="3.6"/><circle cx="1127.7" cy="209.0" r="3.6"/><circle cx="1129.4" cy="198.3" r="3.6"/><circle cx="1131.1" cy="213.6" r="3.6"/><circle cx="1132.7" cy="203.0" r="3.6"/><circle cx="1134.4" cy="202.3" r="3.6"/><circle cx="1136.1" cy="199.0" r="3.6"/><circle cx="1137.8" cy="205.9" r="3.6"/><circle cx="1139.5" cy="204.9" r="3.6"/><circle cx="1141.2" cy="211.4" r="3.6"/><circle cx="1142.9" cy="207.3" r="3.6"/><circle cx="1144.6" cy="216.9" r="3.6"/><circle cx="1146.3" cy="210.2" r="3.6"/><circle cx="1148.0" cy="207.9" r="3.6"/><circle cx="1149.7" cy="208.3" r="3.6"/><circle cx="1151.4" cy="210.1" r="3.6"/><circle cx="1153.1" cy="202.9" r="3.6"/><circle cx="1154.8" cy="215.3" r="3.6"/><circle cx="1156.5" cy="207.7" r="3.6"/><circle cx="1158.2" cy="210.2" r="3.6"/><circle cx="1159.9" cy="208.3" r="3.6"/><circle cx="1161.6" cy="208.2" r="3.6"/><circle cx="1163.3" cy="199.7" r="3.6"/><circle cx="1165.0" cy="213.1" r="3.6"/><circle cx="1166.7" cy="202.3" r="3.6"/><circle cx="1168.4" cy="202.0" r="3.6"/><circle cx="1170.1" cy="208.8" r="3.6"/><circle cx="1171.8" cy="210.9" r="3.6"/><circle cx="1173.5" cy="213.6" r="3.6"/><circle cx="1175.2" cy="211.9" r="3.6"/><circle cx="1176.9" cy="198.9" r="3.6"/><circle cx="1178.6" cy="217.6" r="3.6"/><circle cx="1180.4" cy="205.9" r="3.6"/><circle cx="1182.1" cy="211.0" r="3.6"/><circle cx="1183.8" cy="199.4" r="3.6"/><circle cx="1185.5" cy="206.4" r="3.6"/><circle cx="1187.2" cy="213.8" r="3.6"/><circle cx="1188.9" cy="210.0" r="3.6"/><circle cx="1190.6" cy="206.8" r="3.6"/></g>
<rect x="796.5" y="91.3" width="395.5" height="240.5" fill="none" stroke="#1a1a1a" stroke-width="2.8"/>
<g stroke="#1a1a1a" stroke-width="2.8"><line x1="829.5" y1="331.8" x2="829.5" y2="322.3"/><line x1="829.5" y1="91.3" x2="829.5" y2="100.8"/><line x1="862.4" y1="331.8" x2="862.4" y2="316.3"/><line x1="862.4" y1="91.3" x2="862.4" y2="106.8"/><line x1="895.4" y1="331.8" x2="895.4" y2="322.3"/><line x1="895.4" y1="91.3" x2="895.4" y2="100.8"/><line x1="928.3" y1="331.8" x2="928.3" y2="316.3"/><line x1="928.3" y1="91.3" x2="928.3" y2="106.8"/><line x1="961.3" y1="331.8" x2="961.3" y2="322.3"/><line x1="961.3" y1="91.3" x2="961.3" y2="100.8"/><line x1="994.2" y1="331.8" x2="994.2" y2="316.3"/><line x1="994.2" y1="91.3" x2="994.2" y2="106.8"/><line x1="1027.2" y1="331.8" x2="1027.2" y2="322.3"/><line x1="1027.2" y1="91.3" x2="1027.2" y2="100.8"/><line x1="1060.2" y1="331.8" x2="1060.2" y2="316.3"/><line x1="1060.2" y1="91.3" x2="1060.2" y2="106.8"/><line x1="1093.1" y1="331.8" x2="1093.1" y2="322.3"/><line x1="1093.1" y1="91.3" x2="1093.1" y2="100.8"/><line x1="1126.1" y1="331.8" x2="1126.1" y2="316.3"/><line x1="1126.1" y1="91.3" x2="1126.1" y2="106.8"/><line x1="1159.0" y1="331.8" x2="1159.0" y2="322.3"/><line x1="1159.0" y1="91.3" x2="1159.0" y2="100.8"/><line x1="796.5" y1="302.7" x2="811.0" y2="302.7"/><line x1="1192.0" y1="302.7" x2="1177.5" y2="302.7"/><line x1="796.5" y1="257.9" x2="805.0" y2="257.9"/><line x1="1192.0" y1="257.9" x2="1183.5" y2="257.9"/><line x1="796.5" y1="213.0" x2="811.0" y2="213.0"/><line x1="1192.0" y1="213.0" x2="1177.5" y2="213.0"/><line x1="796.5" y1="168.2" x2="805.0" y2="168.2"/><line x1="1192.0" y1="168.2" x2="1183.5" y2="168.2"/><line x1="796.5" y1="123.3" x2="811.0" y2="123.3"/><line x1="1192.0" y1="123.3" x2="1177.5" y2="123.3"/><line x1="994.2" y1="86.5" x2="994.2" y2="100"/></g>
<g font-size="27" fill="#1a1a1a" text-anchor="middle"><text x="794.5" y="366.3" textLength="35" lengthAdjust="spacingAndGlyphs">-30</text><text x="860.4" y="366.3" textLength="35" lengthAdjust="spacingAndGlyphs">-20</text><text x="926.3" y="366.3" textLength="35" lengthAdjust="spacingAndGlyphs">-10</text><text x="994.2" y="366.3" textLength="15" lengthAdjust="spacingAndGlyphs">0</text><text x="1060.2" y="366.3" textLength="26" lengthAdjust="spacingAndGlyphs">10</text><text x="1126.1" y="366.3" textLength="26" lengthAdjust="spacingAndGlyphs">20</text><text x="1192.0" y="366.3" textLength="26" lengthAdjust="spacingAndGlyphs">30</text></g>
<g font-size="27" fill="#1a1a1a" text-anchor="end"><text x="779.5" y="132.5">1</text><text x="780" y="222.5">0</text><text x="779.5" y="312">-1</text></g>
<text x="943" y="407" font-size="27" fill="#1a1a1a"><tspan textLength="13" lengthAdjust="spacingAndGlyphs">µ</tspan><tspan font-size="15" dy="7" font-weight="bold">0</tspan><tspan dy="-7" textLength="77" lengthAdjust="spacingAndGlyphs">H (mT)</tspan></text>
<text transform="translate(725,276) rotate(-90)" font-size="27" font-weight="bold" fill="#2d2a8c"><tspan textLength="35" lengthAdjust="spacingAndGlyphs">ΔV</tspan><tspan font-size="15" dy="9">DC</tspan><tspan dy="-9" textLength="57" lengthAdjust="spacingAndGlyphs">(µV)</tspan></text>
<g font-size="26.5" fill="#e8198b" stroke="#e8198b" stroke-width="0.9"><text x="824" y="140.5" textLength="133" lengthAdjust="spacingAndGlyphs">EMW (×0.1)</text><text x="824" y="182" textLength="76" lengthAdjust="spacingAndGlyphs">(0.2µs)</text></g>
<text x="998.5" y="293.3" font-size="27" fill="#b5813f" stroke="#b5813f" stroke-width="0.7" textLength="143" lengthAdjust="spacingAndGlyphs">SAW (0.6µs)</text>
</g>
<g id="chip">
<rect x="54.3" y="633" width="401" height="401.7" fill="#bfbfbf" stroke="#4a78b0" stroke-width="1.8"/>
<line x1="152" y1="662.5" x2="352" y2="662.5" stroke="#e2bb5c" stroke-width="3"/>
<line x1="152" y1="667.8" x2="352" y2="667.8" stroke="#e2bb5c" stroke-width="3"/>
<line x1="152" y1="673.5" x2="352" y2="673.5" stroke="#e2bb5c" stroke-width="3"/>
<line x1="152" y1="679.0" x2="352" y2="679.0" stroke="#e2bb5c" stroke-width="3"/>
<line x1="152" y1="684.5" x2="352" y2="684.5" stroke="#e2bb5c" stroke-width="3"/>
<line x1="169" y1="981.0" x2="360" y2="981.0" stroke="#f2b632" stroke-width="2.6"/>
<line x1="153" y1="988.5" x2="345" y2="988.5" stroke="#f2b632" stroke-width="2.6"/>
<line x1="169" y1="995.5" x2="360" y2="995.5" stroke="#f2b632" stroke-width="2.6"/>
<line x1="153" y1="1002.5" x2="345" y2="1002.5" stroke="#f2b632" stroke-width="2.6"/>
<line x1="93.5" y1="728" x2="93.5" y2="937" stroke="#f2b632" stroke-width="4.5"/>
<line x1="100.7" y1="728" x2="100.7" y2="937" stroke="#f2b632" stroke-width="3.0"/>
<line x1="106.0" y1="728" x2="106.0" y2="937" stroke="#f2b632" stroke-width="3.0"/>
<line x1="114.0" y1="728" x2="114.0" y2="937" stroke="#f2b632" stroke-width="5.5"/>
<line x1="403.5" y1="728" x2="403.5" y2="937" stroke="#f2b632" stroke-width="3.6"/>
<line x1="410.5" y1="728" x2="410.5" y2="937" stroke="#f2b632" stroke-width="3.0"/>
<line x1="417.0" y1="728" x2="417.0" y2="937" stroke="#f2b632" stroke-width="3.0"/>
<line x1="423.8" y1="728" x2="423.8" y2="937" stroke="#f2b632" stroke-width="3.2"/>
<rect x="156.2" y="731.5" width="201.5" height="204" fill="#fff" stroke="#111" stroke-width="2.5"/>
<rect x="120.5" y="653.0" width="31.5" height="37.0" fill="#ffc000" stroke="#1a1a1a" stroke-width="2"/>
<rect x="84.5" y="696.0" width="37.5" height="32.0" fill="#ffc000" stroke="#1a1a1a" stroke-width="2"/>
<rect x="359.5" y="653.0" width="31.0" height="37.0" fill="#ffc000" stroke="#1a1a1a" stroke-width="2"/>
<rect x="396.0" y="696.0" width="36.5" height="32.0" fill="#ffc000" stroke="#1a1a1a" stroke-width="2"/>
<rect x="84.5" y="936.0" width="37.5" height="31.5" fill="#ffc000" stroke="#1a1a1a" stroke-width="2"/>
<rect x="122.0" y="972.5" width="30.5" height="37.5" fill="#ffc000" stroke="#1a1a1a" stroke-width="2"/>
<rect x="396.0" y="936.0" width="36.5" height="31.5" fill="#ffc000" stroke="#1a1a1a" stroke-width="2"/>
<rect x="360.0" y="972.5" width="31.0" height="37.5" fill="#ffc000" stroke="#1a1a1a" stroke-width="2"/>
<line x1="223" y1="630.5" x2="319" y2="630.5" stroke="#8aa0b8" stroke-width="2"/>
<polyline points="243.5,630.5 243.5,630.5 243.8,635.5 244.1,640.4 244.4,645.0 244.7,649.3 244.9,653.1 245.2,656.4 245.5,659.0 245.8,660.9 246.1,662.1 246.4,662.5 246.7,662.1 247.0,660.9 247.3,659.0 247.6,656.4 247.8,653.1 248.1,649.3 248.4,645.0 248.7,640.4 249.0,635.5 249.3,630.5 249.6,625.5 249.9,620.6 250.2,616.0 250.5,611.7 250.8,607.9 251.0,604.6 251.3,602.0 251.6,600.1 251.9,598.9 252.2,598.5 252.5,598.9 252.8,600.1 253.1,602.0 253.4,604.6 253.7,607.9 253.9,611.7 254.2,616.0 254.5,620.6 254.8,625.5 255.1,630.5 255.4,635.5 255.7,640.4 256.0,645.0 256.3,649.3 256.6,653.1 256.8,656.4 257.1,659.0 257.4,660.9 257.7,662.1 258.0,662.5 258.3,662.1 258.6,660.9 258.9,659.0 259.2,656.4 259.4,653.1 259.7,649.3 260.0,645.0 260.3,640.4 260.6,635.5 260.9,630.5 261.2,625.5 261.5,620.6 261.8,616.0 262.1,611.7 262.4,607.9 262.6,604.6 262.9,602.0 263.2,600.1 263.5,598.9 263.8,598.5 264.1,598.9 264.4,600.1 264.7,602.0 265.0,604.6 265.2,607.9 265.5,611.7 265.8,616.0 266.1,620.6 266.4,625.5 266.7,630.5 267.0,635.5 267.3,640.4 267.6,645.0 267.9,649.3 268.1,653.1 268.4,656.4 268.7,659.0 269.0,660.9 269.3,662.1 269.6,662.5 269.9,662.1 270.2,660.9 270.5,659.0 270.8,656.4 271.1,653.1 271.3,649.3 271.6,645.0 271.9,640.4 272.2,635.5 272.5,630.5 272.8,625.5 273.1,620.6 273.4,616.0 273.7,611.7 273.9,607.9 274.2,604.6 274.5,602.0 274.8,600.1 275.1,598.9 275.4,598.5 275.7,598.9 276.0,600.1 276.3,602.0 276.6,604.6 276.9,607.9 277.1,611.7 277.4,616.0 277.7,620.6 278.0,625.5 278.3,630.5 278.6,635.5 278.9,640.4 279.2,645.0 279.5,649.3 279.8,653.1 280.0,656.4 280.3,659.0 280.6,660.9 280.9,662.1 281.2,662.5 281.5,662.1 281.8,660.9 282.1,659.0 282.4,656.4 282.6,653.1 282.9,649.3 283.2,645.0 283.5,640.4 283.8,635.5 284.1,630.5 284.4,625.5 284.7,620.6 285.0,616.0 285.3,611.7 285.6,607.9 285.8,604.6 286.1,602.0 286.4,600.1 286.7,598.9 287.0,598.5 287.3,598.9 287.6,600.1 287.9,602.0 288.2,604.6 288.4,607.9 288.7,611.7 289.0,616.0 289.3,620.6 289.6,625.5 289.9,630.5 290.2,635.5 290.5,640.4 290.8,645.0 291.1,649.3 291.4,653.1 291.6,656.4 291.9,659.0 292.2,660.9 292.5,662.1 292.8,662.5 293.1,662.1 293.4,660.9 293.7,659.0 294.0,656.4 294.2,653.1 294.5,649.3 294.8,645.0 295.1,640.4 295.4,635.5 295.7,630.5 296.0,625.5 296.3,620.6 296.6,616.0 296.9,611.7 297.1,607.9 297.4,604.6 297.7,602.0 298.0,600.1 298.3,598.9 298.6,598.5 298.9,598.9 299.2,600.1 299.5,602.0 299.8,604.6 300.1,607.9 300.3,611.7 300.6,616.0 300.9,620.6 301.2,625.5 301.5,630.5 301.5,630.5" fill="none" stroke="#222" stroke-width="1.1"/>
<polyline points="239.5,1032.0 257.5,1032.0 257.8,1027.0 258.1,1022.1 258.4,1017.5 258.7,1013.2 259.0,1009.4 259.3,1006.1 259.6,1003.5 259.9,1001.6 260.2,1000.4 260.5,1000.0 260.8,1000.4 261.1,1001.6 261.4,1003.5 261.7,1006.1 262.0,1009.4 262.3,1013.2 262.6,1017.5 262.9,1022.1 263.2,1027.0 263.5,1032.0 263.8,1037.0 264.1,1041.9 264.4,1046.5 264.7,1050.8 265.0,1054.6 265.3,1057.9 265.6,1060.5 265.9,1062.4 266.2,1063.6 266.5,1064.0 266.8,1063.6 267.1,1062.4 267.4,1060.5 267.7,1057.9 268.0,1054.6 268.3,1050.8 268.6,1046.5 268.9,1041.9 269.2,1037.0 269.5,1032.0 269.8,1027.0 270.1,1022.1 270.4,1017.5 270.7,1013.2 271.0,1009.4 271.3,1006.1 271.6,1003.5 271.9,1001.6 272.2,1000.4 272.5,1000.0 272.8,1000.4 273.1,1001.6 273.4,1003.5 273.7,1006.1 274.0,1009.4 274.3,1013.2 274.6,1017.5 274.9,1022.1 275.2,1027.0 275.5,1032.0 275.8,1037.0 276.1,1041.9 276.4,1046.5 276.7,1050.8 277.0,1054.6 277.3,1057.9 277.6,1060.5 277.9,1062.4 278.2,1063.6 278.5,1064.0 278.8,1063.6 279.1,1062.4 279.4,1060.5 279.7,1057.9 280.0,1054.6 280.3,1050.8 280.6,1046.5 280.9,1041.9 281.2,1037.0 281.5,1032.0 281.8,1027.0 282.1,1022.1 282.4,1017.5 282.7,1013.2 283.0,1009.4 283.3,1006.1 283.6,1003.5 283.9,1001.6 284.2,1000.4 284.5,1000.0 284.8,1000.4 285.1,1001.6 285.4,1003.5 285.7,1006.1 286.0,1009.4 286.3,1013.2 286.6,1017.5 286.9,1022.1 287.2,1027.0 287.5,1032.0 287.8,1037.0 288.1,1041.9 288.4,1046.5 288.7,1050.8 289.0,1054.6 289.3,1057.9 289.6,1060.5 289.9,1062.4 290.2,1063.6 290.5,1064.0 290.8,1063.6 291.1,1062.4 291.4,1060.5 291.7,1057.9 292.0,1054.6 292.3,1050.8 292.6,1046.5 292.9,1041.9 293.2,1037.0 293.5,1032.0 293.8,1027.0 294.1,1022.1 294.4,1017.5 294.7,1013.2 295.0,1009.4 295.3,1006.1 295.6,1003.5 295.9,1001.6 296.2,1000.4 296.5,1000.0 296.8,1000.4 297.1,1001.6 297.4,1003.5 297.7,1006.1 298.0,1009.4 298.3,1013.2 298.6,1017.5 298.9,1022.1 299.2,1027.0 299.5,1032.0 299.8,1037.0 300.1,1041.9 300.4,1046.5 300.7,1050.8 301.0,1054.6 301.3,1057.9 301.6,1060.5 301.9,1062.4 302.2,1063.6 302.5,1064.0 302.8,1063.6 303.1,1062.4 303.4,1060.5 303.7,1057.9 304.0,1054.6 304.3,1050.8 304.6,1046.5 304.9,1041.9 305.2,1037.0 305.5,1032.0 305.8,1027.0 306.1,1022.1 306.4,1017.5 306.7,1013.2 307.0,1009.4 307.3,1006.1 307.6,1003.5 307.9,1001.6 308.2,1000.4 308.5,1000.0 308.8,1000.4 309.1,1001.6 309.4,1003.5 309.7,1006.1 310.0,1009.4 310.3,1013.2 310.6,1017.5 310.9,1022.1 311.2,1027.0 311.5,1032.0 311.8,1037.0 312.1,1041.9 312.4,1046.5 312.7,1050.8 313.0,1054.6 313.3,1057.9 313.6,1060.5 313.9,1062.4 314.2,1063.6 314.5,1064.0 314.8,1063.6 315.1,1062.4 315.4,1060.5 315.7,1057.9 316.0,1054.6 316.3,1050.8 316.6,1046.5 316.9,1041.9 317.2,1037.0 317.5,1032.0 334.5,1032.0" fill="none" stroke="#222" stroke-width="1.1"/>
<path d="M259,677.5 C250,682 243,688 246,694 C250,701 266,702 265,709 C264,717 246,718 247.5,726 C249,733 262,735 262,742" fill="none" stroke="#f5111b" stroke-width="6.6" stroke-linecap="round"/>
<path d="M247,737 L277,749 L268,753 L250,761 Z" fill="#f5111b"/>
<path d="M251,992 C262,986 270,981 267,975 C263,968 245,967 246,960 C247,952 267,951 266,943 C265,936 246,934 246,926 L250,916" fill="none" stroke="#f5111b" stroke-width="6.6" stroke-linecap="round"/>
<path d="M232,916 L262,909.5 L254,921 L247,928 Z" fill="#f5111b"/>
<rect x="247" y="819.5" width="17.5" height="18" fill="none" stroke="#111" stroke-width="1.6" stroke-dasharray="5 2.5"/>
<line x1="264.5" y1="819.5" x2="494.5" y2="629.5" stroke="#333" stroke-width="1.2"/>
<line x1="264.5" y1="837.5" x2="494.5" y2="1014.5" stroke="#333" stroke-width="1.2"/>
<text x="49" y="825.5" font-size="33.5" fill="#111" textLength="88" lengthAdjust="spacingAndGlyphs">GaAs</text>
<text x="126" y="883.5" font-size="33.5" fill="#111" textLength="181" lengthAdjust="spacingAndGlyphs">(Ga,Mn)As</text>
<line x1="36.8" y1="1039" x2="36.8" y2="886" stroke="#1f77c9" stroke-width="3"/>
<path d="M36.8,867.5 L48,889 L25.8,889 Z" fill="#1f77c9"/>
<text x="40" y="1087" font-size="35" font-weight="bold" fill="#1f77c9" textLength="176" lengthAdjust="spacingAndGlyphs">x // [110]</text>
<text font-weight="bold" fill="#111" font-size="31"><tspan x="413" y="1084.5" textLength="14" lengthAdjust="spacingAndGlyphs">f</tspan><tspan x="427" y="1092.5" font-size="22" textLength="45" lengthAdjust="spacingAndGlyphs">saw</tspan><tspan x="473" y="1084.5" textLength="206" lengthAdjust="spacingAndGlyphs">=141.4 MHz</tspan></text>
<text fill="#f5111b" font-size="31"><tspan x="398" y="1135" font-family="'Liberation Serif', serif" font-size="40" textLength="21" lengthAdjust="spacingAndGlyphs">λ</tspan><tspan x="420" y="1143.5" font-size="22" font-weight="bold" textLength="46" lengthAdjust="spacingAndGlyphs">saw</tspan><tspan x="473" y="1135" font-weight="bold" textLength="221" lengthAdjust="spacingAndGlyphs">/2 = 10.1 µm</tspan></text>
</g>
<defs>
<clipPath id="stripclip"><rect x="494.5" y="629.5" width="108" height="385"/></clipPath>
<filter id="grain" filterUnits="userSpaceOnUse" x="470" y="600" width="160" height="440" color-interpolation-filters="sRGB">
<feGaussianBlur in="SourceGraphic" stdDeviation="2.2 3.2" result="b"/>
<feTurbulence type="fractalNoise" baseFrequency="0.42 0.22" numOctaves="2" seed="7" result="n"/>
<feColorMatrix in="n" type="matrix" values="1 0 0 0 0  1 0 0 0 0  1 0 0 0 0  0 0 0 0 1" result="ng"/>
<feComposite in="b" in2="ng" operator="arithmetic" k1="0" k2="1" k3="0.75" k4="-0.375"/>
</filter>
</defs>
<g clip-path="url(#stripclip)"><g filter="url(#grain)">
<rect x="460" y="590" width="180" height="460" fill="#c4c4c4"/>
<path d="M483.5,643.7 Q547.8,651.3 613.8,642.0 L613.8,669.1 Q547.8,676.3 483.5,670.8 Z" fill="#121212"/>
<path d="M483.5,696.1 Q547.8,695.6 613.8,694.5 L613.8,716.4 Q547.8,718.3 483.5,718.1 Z" fill="#121212"/>
<path d="M483.5,745.2 Q547.8,742.2 613.8,741.8 L613.8,767.2 Q547.8,760.9 483.5,768.9 Z" fill="#121212"/>
<path d="M483.5,790.9 Q547.8,794.3 613.8,797.7 L613.8,821.4 Q547.8,818.5 483.5,816.3 Z" fill="#121212"/>
<path d="M483.5,848.4 Q547.8,838.3 613.8,848.4 L613.8,872.1 Q547.8,861.6 483.5,868.7 Z" fill="#121212"/>
<path d="M483.5,889.0 Q547.8,894.1 613.8,892.4 L613.8,916.1 Q547.8,920.2 483.5,916.1 Z" fill="#121212"/>
<path d="M483.5,939.8 Q547.8,941.5 613.8,936.4 L613.8,960.1 Q547.8,963.1 483.5,970.3 Z" fill="#121212"/>
<path d="M483.5,990.6 Q547.8,989.2 613.8,990.6 L613.8,1027.8 Q547.8,1027.8 483.5,1027.8 Z" fill="#121212"/>
</g></g>
<line x1="550.2" y1="707" x2="550.2" y2="756.5" stroke="#f5141f" stroke-width="3.6"/>
<path d="M550.2,702.0 l5.5,5 l-5.5,5 l-5.5,-5 Z" fill="#f5141f"/>
<path d="M550.2,751.5 l5.5,5 l-5.5,5 l-5.5,-5 Z" fill="#f5141f"/>
<path d="M576.5,827 H545 M553,821 L545,827 L553,833" fill="none" stroke="#111" stroke-width="1.5"/>
<path d="M542,855.2 H574 M566,849 L574,855.2 L566,861.5" fill="none" stroke="#fff" stroke-width="2.2"/>
<defs>
<clipPath id="heatclip"><rect x="757.4" y="625.2" width="369" height="389.3"/></clipPath>
<filter id="heatf" filterUnits="userSpaceOnUse" x="720" y="590" width="450" height="460" color-interpolation-filters="sRGB">
<feTurbulence type="fractalNoise" baseFrequency="0.012 0.03" numOctaves="2" seed="11" result="d"/>
<feDisplacementMap in="SourceGraphic" in2="d" scale="14" xChannelSelector="R" yChannelSelector="G" result="disp"/>
<feGaussianBlur in="disp" stdDeviation="5 3.2" result="b"/>
<feTurbulence type="fractalNoise" baseFrequency="0.015 0.22" numOctaves="2" seed="5" result="n"/>
<feColorMatrix in="n" type="matrix" values="1 0 0 0 0  1 0 0 0 0  0 0 0 0 0.5  0 0 0 0 1" result="ng"/>
<feComposite in="b" in2="ng" operator="arithmetic" k1="0" k2="1" k3="0.45" k4="-0.225"/>
</filter>
</defs>
<g clip-path="url(#heatclip)"><g filter="url(#heatf)">
<rect x="700" y="570" width="490" height="500" fill="#c5c838"/>
<polygon points="729.7,671.8 851.5,665.0 939.5,658.2 1030.9,649.8 1156.1,644.0 1156.1,664.0 1030.9,665.7 939.5,674.1 851.5,687.7 729.7,696.1" fill="#3333cc"/>
<polygon points="729.7,719.8 851.5,715.8 939.5,705.6 1030.9,702.2 1156.1,694.8 1156.1,715.4 1030.9,721.5 939.5,735.1 851.5,736.8 729.7,742.5" fill="#3333cc"/>
<polygon points="729.7,770.6 851.5,763.1 939.5,756.4 1030.9,754.7 1156.1,743.5 1156.1,764.8 1030.9,772.3 939.5,777.4 851.5,784.1 729.7,793.3" fill="#3333cc"/>
<polygon points="729.7,821.4 851.5,817.3 939.5,808.8 1030.9,803.8 1156.1,796.3 1156.1,819.0 1030.9,826.4 939.5,829.8 851.5,836.6 729.7,842.3" fill="#3333cc"/>
<polygon points="729.7,872.1 851.5,864.7 939.5,859.6 1030.9,856.2 1156.1,847.1 1156.1,869.7 1030.9,877.2 939.5,880.6 851.5,887.3 729.7,894.8" fill="#3333cc"/>
<polygon points="729.7,922.9 851.5,918.8 939.5,912.0 1030.9,901.9 1156.1,903.6 1156.1,917.8 1030.9,928.0 939.5,934.7 851.5,939.8 729.7,943.9" fill="#3333cc"/>
<polygon points="729.7,973.6 851.5,969.6 939.5,962.8 1030.9,954.3 1156.1,948.6 1156.1,971.3 1030.9,975.3 939.5,983.8 851.5,988.9 729.7,994.6" fill="#3333cc"/>
<polygon points="729.7,609.8 939.5,609.8 926.0,626.1 885.4,630.2 800.8,639.0 729.7,641.7" fill="#3333cc"/>
<polygon points="878.6,1016.6 953.0,1008.5 1030.9,1006.5 1156.1,998.3 1156.1,1036.2 878.6,1036.2" fill="#3333cc"/>
<polygon points="966.6,743.5 1007.2,743.5 991.6,717.5 983.5,717.5" fill="#c5c838"/>
</g></g>
<rect x="757.4" y="625.2" width="369" height="389.3" fill="none" stroke="#555" stroke-width="0.8"/>
<line x1="757" y1="1014.6" x2="1127" y2="1014.6" stroke="#222" stroke-width="1.4"/>
<g stroke="#333" stroke-width="1.3"><line x1="749.5" y1="1014.6" x2="757.4" y2="1014.6"/><line x1="1126.4" y1="1014.6" x2="1133" y2="1014.6"/><line x1="749.5" y1="913.9" x2="757.4" y2="913.9"/><line x1="1126.4" y1="913.9" x2="1133" y2="913.9"/><line x1="749.5" y1="813.2" x2="757.4" y2="813.2"/><line x1="1126.4" y1="813.2" x2="1133" y2="813.2"/><line x1="749.5" y1="712.5" x2="757.4" y2="712.5"/><line x1="1126.4" y1="712.5" x2="1133" y2="712.5"/><line x1="753.5" y1="964.2" x2="757.4" y2="964.2" stroke="#666"/><line x1="1126.4" y1="964.2" x2="1130" y2="964.2" stroke="#666"/><line x1="753.5" y1="863.5" x2="757.4" y2="863.5" stroke="#666"/><line x1="1126.4" y1="863.5" x2="1130" y2="863.5" stroke="#666"/><line x1="753.5" y1="762.9" x2="757.4" y2="762.9" stroke="#666"/><line x1="1126.4" y1="762.9" x2="1130" y2="762.9" stroke="#666"/><line x1="753.5" y1="662.2" x2="757.4" y2="662.2" stroke="#666"/><line x1="1126.4" y1="662.2" x2="1130" y2="662.2" stroke="#666"/><line x1="831.5" y1="1014.6" x2="831.5" y2="1021"/><line x1="930.2" y1="1014.6" x2="930.2" y2="1021"/><line x1="1028.6" y1="1014.6" x2="1028.6" y2="1021"/><line x1="1126.4" y1="1014.6" x2="1126.4" y2="1021"/><line x1="782.2" y1="1014.6" x2="782.2" y2="1018" stroke="#666"/><line x1="880.8" y1="1014.6" x2="880.8" y2="1018" stroke="#666"/><line x1="979.4" y1="1014.6" x2="979.4" y2="1018" stroke="#666"/><line x1="1077.5" y1="1014.6" x2="1077.5" y2="1018" stroke="#666"/></g>
<g font-size="29" fill="#111"><text x="748" y="1024.9" text-anchor="end">0</text><text x="748" y="924.2" text-anchor="end">20</text><text x="748" y="823.5" text-anchor="end">40</text><text x="748" y="722.8" text-anchor="end">60</text><text x="1137.5" y="1024.9">0</text><text x="1137.5" y="924.2">2</text><text x="1137.5" y="823.5">4</text><text x="1137.5" y="722.8">6</text><text x="831.5" y="1054" text-anchor="middle">45</text><text x="930.2" y="1054" text-anchor="middle">90</text><text x="1028.6" y="1054" text-anchor="middle">135</text><text x="1126.4" y="1054" text-anchor="middle">180</text></g>
<text transform="translate(692.5,895.5) rotate(-90)" font-size="48" fill="#111" textLength="143" lengthAdjust="spacingAndGlyphs">x (µm)</text>
<text transform="translate(1203,660) rotate(90)" font-size="36" fill="#111"><tspan>x (in units of </tspan><tspan font-family="'Liberation Serif',serif" font-size="38">λ</tspan><tspan font-size="24" dy="8">saw</tspan><tspan dy="-8">/2)</tspan></text>
<text x="956" y="1093.5" font-size="32" fill="#222" text-anchor="middle" textLength="296" lengthAdjust="spacingAndGlyphs">respective phase of</text>
<text x="960" y="1139" font-size="32" fill="#222" text-anchor="middle" textLength="242" lengthAdjust="spacingAndGlyphs">2 rf bursts (deg)</text>
</svg>
</body></html>
